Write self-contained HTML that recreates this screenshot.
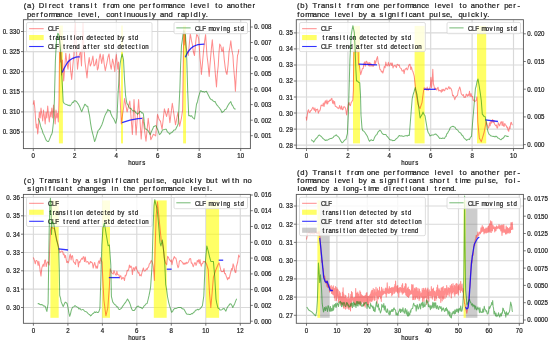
<!DOCTYPE html>
<html><head><meta charset="utf-8"><style>html,body{margin:0;padding:0;background:#fff;}svg{display:block;}</style></head>
<body>
<svg width="550" height="342" viewBox="0 0 550 342" font-family="'Liberation Sans', 'Noto Sans CJK SC', sans-serif">
<rect width="550" height="342" fill="#ffffff"/>
<line x1="33.3" y1="19.7" x2="33.3" y2="148.6" stroke="#d9d9d9" stroke-width="1.15"/>
<line x1="74.8" y1="19.7" x2="74.8" y2="148.6" stroke="#d9d9d9" stroke-width="1.15"/>
<line x1="116.3" y1="19.7" x2="116.3" y2="148.6" stroke="#d9d9d9" stroke-width="1.15"/>
<line x1="157.7" y1="19.7" x2="157.7" y2="148.6" stroke="#d9d9d9" stroke-width="1.15"/>
<line x1="199.2" y1="19.7" x2="199.2" y2="148.6" stroke="#d9d9d9" stroke-width="1.15"/>
<line x1="240.7" y1="19.7" x2="240.7" y2="148.6" stroke="#d9d9d9" stroke-width="1.15"/>
<line x1="23.4" y1="31.5" x2="250.4" y2="31.5" stroke="#d9d9d9" stroke-width="1.15"/>
<line x1="23.4" y1="51.6" x2="250.4" y2="51.6" stroke="#d9d9d9" stroke-width="1.15"/>
<line x1="23.4" y1="71.7" x2="250.4" y2="71.7" stroke="#d9d9d9" stroke-width="1.15"/>
<line x1="23.4" y1="91.8" x2="250.4" y2="91.8" stroke="#d9d9d9" stroke-width="1.15"/>
<line x1="23.4" y1="111.9" x2="250.4" y2="111.9" stroke="#d9d9d9" stroke-width="1.15"/>
<line x1="23.4" y1="132.0" x2="250.4" y2="132.0" stroke="#d9d9d9" stroke-width="1.15"/>
<rect x="58.9" y="25.5" width="4.0" height="117.9" fill="#ffff00" fill-opacity="0.6"/>
<rect x="121.0" y="25.5" width="2.0" height="117.9" fill="#ffff00" fill-opacity="0.6"/>
<rect x="183.1" y="25.5" width="2.9" height="117.9" fill="#ffff00" fill-opacity="0.6"/>
<polyline points="33.2,104.6 34.0,100.5 34.8,108.0 35.5,118.0 36.3,128.0 37.0,124.0 37.7,134.0 38.5,126.0 39.3,112.0 40.2,118.0 41.0,108.0 41.8,114.0 42.7,121.0 43.5,110.0 44.3,116.0 45.2,124.0 46.0,112.0 46.8,118.0 47.7,106.0 48.5,115.0 49.3,122.0 50.2,112.0 51.0,117.0 51.8,108.0 52.7,118.0 53.5,105.0 54.3,113.0 55.2,124.0 56.0,110.0 56.8,118.0 57.6,113.0 58.3,122.0 59.0,100.0 59.5,60.0 59.9,30.0 60.4,62.0 61.0,45.0 61.6,75.0 62.5,60.0 62.5,60.0 63.7,80.9 65.8,53.2 66.8,62.0 68.0,69.2 69.5,53.9 70.6,70.0 71.7,79.5 72.8,66.0 73.9,54.6 74.7,30.0 75.4,23.0 76.2,45.0 77.5,69.2 79.0,56.0 80.5,51.7 81.5,66.0 82.4,40.0 83.0,23.0 83.8,45.0 85.0,62.0 86.3,72.2 87.0,78.0 88.0,66.0 89.2,57.5 90.3,66.0 91.4,63.4 92.9,56.0 94.0,66.0 95.1,64.9 96.5,59.0 97.4,70.0 98.3,67.8 99.3,58.0 100.2,53.9 101.7,63.4 103.1,54.6 104.2,64.0 105.3,70.7 106.8,63.4 108.0,57.0 109.0,53.9 110.1,64.0 111.2,69.2 112.6,59.0 113.7,64.0 114.8,71.4 115.6,60.0 116.3,54.6 117.1,62.0 117.8,69.2 118.5,62.0 119.3,80.0 120.2,100.0 121.3,124.0 121.4,124.0 122.5,115.0 123.6,108.0 124.5,98.5 127.1,111.9 129.8,101.0 132.4,134.6 134.0,99.5 136.1,135.0 138.6,99.5 141.2,139.1 142.8,117.6 146.0,141.3 148.2,118.3 150.8,139.7 153.4,134.2 155.7,135.9 157.5,114.4 159.1,119.4 160.5,121.4 162.1,129.3 164.4,108.8 166.6,116.5 168.4,108.4 169.9,122.7 172.3,103.2 175.5,124.8 177.9,112.5 179.6,126.3 181.5,117.8 182.6,110.0 183.3,60.0 183.7,31.0 184.3,45.0 184.9,34.0 186.2,48.0 187.2,52.0 187.7,52.5 188.2,55.5 189.2,45.4 190.3,33.5 191.4,40.2 192.4,45.0 193.4,52.0 194.5,55.5 195.6,43.4 196.6,34.5 197.6,35.3 198.7,38.7 199.3,46.6 200.0,58.0 200.7,64.8 201.4,74.4 202.4,64.0 203.5,51.3 204.6,41.1 205.6,34.5 206.3,45.2 207.0,55.5 208.1,64.6 209.2,76.5 209.9,66.0 210.6,57.6 211.4,48.4 212.3,39.8 213.4,52.5 214.4,61.8 215.4,74.9 216.5,87.0 217.3,74.1 218.2,66.0 218.9,53.9 219.7,44.0 220.8,45.9 221.8,51.3 222.5,51.1 223.2,47.1 224.2,59.1 225.3,68.1 226.2,72.8 227.0,74.4 228.1,64.5 229.1,51.3 229.9,47.3 230.8,40.8 231.9,50.4 232.9,55.5 233.6,66.7 234.3,75.0 234.9,81.9 235.4,91.2 235.9,82.3 236.5,70.0 237.0,62.7 237.5,55.5 238.2,53.6 238.8,49.2" fill="none" stroke="#ff0000" stroke-width="1.02" opacity="0.45" stroke-linejoin="round" />
<polyline points="62.2,72.4 64.0,68.5 66.0,65.0 67.7,62.3 70.0,60.0 72.0,58.7 74.1,57.8 76.0,57.2 78.0,56.9 79.8,56.9" fill="none" stroke="#0000ff" stroke-width="1.3" opacity="0.8" stroke-linejoin="round" />
<polyline points="122.0,122.6 126.0,121.3 130.0,120.2 134.0,119.3 138.0,118.7 142.2,118.3" fill="none" stroke="#0000ff" stroke-width="1.3" opacity="0.8" stroke-linejoin="round" />
<polyline points="185.3,57.2 187.0,53.5 189.0,50.5 191.0,48.3 193.0,46.7 195.5,45.5 198.0,44.7 201.0,44.3 204.4,44.1" fill="none" stroke="#0000ff" stroke-width="1.3" opacity="0.8" stroke-linejoin="round" />
<rect x="26.5" y="22.5" width="125.5" height="29.1" rx="1.5" fill="#ffffff" fill-opacity="0.8" stroke="#d6d6d6" stroke-width="0.8"/>
<line x1="29.1" y1="28.7" x2="43.7" y2="28.7" stroke="#ff0000" stroke-opacity="0.45" stroke-width="1"/>
<text transform="scale(0.9,1)" x="53.46 57.86 61.51" y="31.00" font-size="6.8" fill="#1a1a1a" stroke="#1a1a1a" stroke-width="0.22" style="white-space:pre">CLF</text>
<rect x="29.1" y="35.0" width="14.6" height="5.1" fill="#ffff00" fill-opacity="0.6"/>
<text transform="scale(0.9,1)" x="54.97 58.62 61.69 65.53 69.55 74.33 77.97 81.99 84.69 88.53 93.31 96.19 100.03 104.81 107.69 111.72 116.31 119.19 123.03 127.81 130.69 134.72 139.31 142.38 146.97 149.86" y="39.90" font-size="6.8" fill="#1a1a1a" stroke="#1a1a1a" stroke-width="0.22" style="white-space:pre">transition detected by std</text>
<line x1="29.1" y1="46.5" x2="43.7" y2="46.5" stroke="#0000ff" stroke-width="1.1" stroke-opacity="0.8"/>
<text transform="scale(0.9,1)" x="53.46 57.86 61.51 66.47 70.31 73.95 77.03 80.86 84.69 89.47 92.36 97.14 100.97 103.86 108.45 112.47 115.55 120.14 123.03 127.81 130.69 134.53 139.31 142.19 146.22 150.81 154.83 157.53 161.36" y="48.80" font-size="6.8" fill="#1a1a1a" stroke="#1a1a1a" stroke-width="0.22" style="white-space:pre">CLF trend after std detection</text>
<polyline points="38.3,118.4 39.4,121.2 40.5,125.7 41.3,128.3 42.2,130.3 43.0,133.2 43.8,134.6 44.7,136.6 45.5,138.7 46.5,140.7 47.5,141.4 48.5,141.6 49.5,139.4 50.2,137.6 51.0,135.4 51.7,134.4 52.4,131.8 53.5,122.0 54.4,99.8 55.4,60.2 56.5,39.9 57.2,36.2 57.9,33.2 59.2,35.7 60.5,49.5 61.5,70.5 62.5,88.3 63.2,101.8 64.1,103.3 65.0,103.9 65.8,104.2 66.7,104.6 67.5,104.9 68.3,105.6 69.2,105.0 70.0,105.9 70.8,105.0 71.7,103.8 72.5,102.3 73.3,102.5 74.2,100.7 75.0,100.7 76.0,101.2 77.0,102.2 78.0,103.6 79.0,105.2 79.9,107.2 80.8,109.8 81.8,111.7 82.8,108.8 83.8,106.8 84.8,104.2 85.8,105.0 86.7,106.3 87.7,106.2 88.6,111.3 89.5,115.3 90.5,122.8 91.6,129.3 92.6,133.4 93.6,137.2 94.6,141.6 95.6,139.2 96.5,135.8 97.5,132.5 98.3,130.1 99.2,129.6 100.0,128.4 101.0,126.4 102.0,124.4 103.0,121.5 104.0,118.1 105.0,115.4 105.9,113.5 106.9,111.9 107.8,109.4 108.9,110.8 110.0,110.5 111.0,114.0 112.0,116.2 113.0,117.8 113.9,119.1 114.8,121.4 115.7,123.3 117.0,117.8 118.0,94.4 118.8,82.2 119.5,70.5 120.2,63.4 121.0,58.6 122.2,54.0 123.5,59.6 124.5,79.5 125.6,95.7 126.3,100.1 127.0,103.7 128.0,104.9 129.0,107.2 130.0,108.5 131.0,108.3 132.0,110.2 133.0,110.9 134.0,110.7 135.0,111.3 135.8,112.8 136.7,113.1 137.5,114.3 138.3,113.7 139.2,112.4 140.0,111.2 140.8,111.6 141.7,113.1 142.6,112.8 143.4,114.0 144.2,121.9 145.1,128.9 146.0,128.9 146.8,129.7 147.7,130.1 148.5,131.6 149.4,133.0 150.2,134.7 151.0,132.6 151.9,130.6 152.8,128.8 153.6,126.6 154.4,126.4 155.3,125.7 156.1,125.8 156.9,128.0 157.8,129.7 158.7,132.6 159.5,134.6 160.3,133.9 161.2,132.7 162.1,130.7 162.9,129.7 163.8,129.7 164.6,129.5 165.5,129.2 166.3,129.2 167.2,131.6 168.0,132.3 168.8,132.9 169.7,134.3 170.5,132.9 171.4,132.7 172.2,132.2 173.1,131.1 173.9,130.0 174.8,130.1 175.7,129.3 176.5,127.5 177.3,125.9 178.2,123.8 179.0,106.7 179.9,88.2 180.6,64.5 181.5,45.3 182.3,40.4 183.0,34.3 183.8,30.1 184.7,32.1 185.5,35.2 186.8,60.3 187.7,90.7 188.7,115.8 189.7,115.5 190.6,116.3 191.6,115.8 192.6,117.6 193.5,118.2 194.5,119.0 195.5,111.6 196.5,104.2 197.5,101.7 198.4,97.3 199.4,94.2 200.4,90.8 201.2,90.8 202.1,91.7 202.9,91.6 203.8,91.8 204.6,92.2 205.5,91.6 206.3,91.2 207.3,92.9 208.3,95.0 209.2,96.8 210.2,98.7 211.2,99.7 212.2,99.8 213.1,100.8 214.1,101.7 215.1,101.4 216.0,103.6 216.8,104.9 217.7,105.8 218.6,107.0 219.4,107.8 220.3,109.2 221.1,110.4 222.0,112.6 223.0,111.7 224.0,111.1 224.9,109.6 225.9,109.2 226.9,107.4 227.9,105.5 228.9,103.9 229.8,102.8 230.8,101.6 231.8,104.6 232.8,105.9 233.8,108.1 234.8,109.1 235.7,108.9" fill="none" stroke="#008000" stroke-width="1.02" opacity="0.55" stroke-linejoin="round" />
<rect x="174" y="22.4" width="73.5" height="11.3" rx="1.5" fill="#ffffff" fill-opacity="0.8" stroke="#d6d6d6" stroke-width="0.8"/>
<line x1="176.3" y1="27.9" x2="190.6" y2="27.9" stroke="#008000" stroke-opacity="0.55" stroke-width="1"/>
<text transform="scale(0.9,1)" x="216.79 221.19 224.84 229.81 231.75 236.53 240.55 245.33 248.03 251.86 256.64 259.72 264.31 267.19" y="30.70" font-size="6.8" fill="#1a1a1a" stroke="#1a1a1a" stroke-width="0.22" style="white-space:pre">CLF moving std</text>
<rect x="23.4" y="19.7" width="227.0" height="128.9" fill="none" stroke="#555555" stroke-width="0.9"/>
<line x1="33.3" y1="148.6" x2="33.3" y2="151.0" stroke="#555555" stroke-width="0.8"/>
<text transform="scale(0.9,1)" x="35.11" y="158.10" font-size="6.8" fill="#1a1a1a" stroke="#1a1a1a" stroke-width="0.22" style="white-space:pre">0</text>
<line x1="74.8" y1="148.6" x2="74.8" y2="151.0" stroke="#555555" stroke-width="0.8"/>
<text transform="scale(0.9,1)" x="81.20" y="158.10" font-size="6.8" fill="#1a1a1a" stroke="#1a1a1a" stroke-width="0.22" style="white-space:pre">2</text>
<line x1="116.3" y1="148.6" x2="116.3" y2="151.0" stroke="#555555" stroke-width="0.8"/>
<text transform="scale(0.9,1)" x="127.29" y="158.10" font-size="6.8" fill="#1a1a1a" stroke="#1a1a1a" stroke-width="0.22" style="white-space:pre">4</text>
<line x1="157.7" y1="148.6" x2="157.7" y2="151.0" stroke="#555555" stroke-width="0.8"/>
<text transform="scale(0.9,1)" x="173.38" y="158.10" font-size="6.8" fill="#1a1a1a" stroke="#1a1a1a" stroke-width="0.22" style="white-space:pre">6</text>
<line x1="199.2" y1="148.6" x2="199.2" y2="151.0" stroke="#555555" stroke-width="0.8"/>
<text transform="scale(0.9,1)" x="219.46" y="158.10" font-size="6.8" fill="#1a1a1a" stroke="#1a1a1a" stroke-width="0.22" style="white-space:pre">8</text>
<line x1="240.7" y1="148.6" x2="240.7" y2="151.0" stroke="#555555" stroke-width="0.8"/>
<text transform="scale(0.9,1)" x="263.64 267.47" y="158.10" font-size="6.8" fill="#1a1a1a" stroke="#1a1a1a" stroke-width="0.22" style="white-space:pre">10</text>
<line x1="21.0" y1="31.5" x2="23.4" y2="31.5" stroke="#555555" stroke-width="0.8"/>
<text transform="scale(0.9,1)" x="3.03 6.64 10.69 14.53 18.36" y="34.00" font-size="6.8" fill="#1a1a1a" stroke="#1a1a1a" stroke-width="0.22" style="white-space:pre">0.330</text>
<line x1="21.0" y1="51.6" x2="23.4" y2="51.6" stroke="#555555" stroke-width="0.8"/>
<text transform="scale(0.9,1)" x="3.03 6.64 10.69 14.53 18.36" y="54.10" font-size="6.8" fill="#1a1a1a" stroke="#1a1a1a" stroke-width="0.22" style="white-space:pre">0.325</text>
<line x1="21.0" y1="71.7" x2="23.4" y2="71.7" stroke="#555555" stroke-width="0.8"/>
<text transform="scale(0.9,1)" x="3.03 6.64 10.69 14.53 18.36" y="74.20" font-size="6.8" fill="#1a1a1a" stroke="#1a1a1a" stroke-width="0.22" style="white-space:pre">0.320</text>
<line x1="21.0" y1="91.8" x2="23.4" y2="91.8" stroke="#555555" stroke-width="0.8"/>
<text transform="scale(0.9,1)" x="3.03 6.64 10.69 14.53 18.36" y="94.30" font-size="6.8" fill="#1a1a1a" stroke="#1a1a1a" stroke-width="0.22" style="white-space:pre">0.315</text>
<line x1="21.0" y1="111.9" x2="23.4" y2="111.9" stroke="#555555" stroke-width="0.8"/>
<text transform="scale(0.9,1)" x="3.03 6.64 10.69 14.53 18.36" y="114.40" font-size="6.8" fill="#1a1a1a" stroke="#1a1a1a" stroke-width="0.22" style="white-space:pre">0.310</text>
<line x1="21.0" y1="132.0" x2="23.4" y2="132.0" stroke="#555555" stroke-width="0.8"/>
<text transform="scale(0.9,1)" x="3.03 6.64 10.69 14.53 18.36" y="134.50" font-size="6.8" fill="#1a1a1a" stroke="#1a1a1a" stroke-width="0.22" style="white-space:pre">0.305</text>
<line x1="250.4" y1="27.0" x2="252.8" y2="27.0" stroke="#555555" stroke-width="0.8"/>
<text transform="scale(0.9,1)" x="282.58 286.20 290.25 294.08 297.91" y="29.50" font-size="6.8" fill="#1a1a1a" stroke="#1a1a1a" stroke-width="0.22" style="white-space:pre">0.008</text>
<line x1="250.4" y1="42.5" x2="252.8" y2="42.5" stroke="#555555" stroke-width="0.8"/>
<text transform="scale(0.9,1)" x="282.58 286.20 290.25 294.08 297.91" y="45.03" font-size="6.8" fill="#1a1a1a" stroke="#1a1a1a" stroke-width="0.22" style="white-space:pre">0.007</text>
<line x1="250.4" y1="58.1" x2="252.8" y2="58.1" stroke="#555555" stroke-width="0.8"/>
<text transform="scale(0.9,1)" x="282.58 286.20 290.25 294.08 297.91" y="60.56" font-size="6.8" fill="#1a1a1a" stroke="#1a1a1a" stroke-width="0.22" style="white-space:pre">0.006</text>
<line x1="250.4" y1="73.6" x2="252.8" y2="73.6" stroke="#555555" stroke-width="0.8"/>
<text transform="scale(0.9,1)" x="282.58 286.20 290.25 294.08 297.91" y="76.09" font-size="6.8" fill="#1a1a1a" stroke="#1a1a1a" stroke-width="0.22" style="white-space:pre">0.005</text>
<line x1="250.4" y1="89.1" x2="252.8" y2="89.1" stroke="#555555" stroke-width="0.8"/>
<text transform="scale(0.9,1)" x="282.58 286.20 290.25 294.08 297.91" y="91.62" font-size="6.8" fill="#1a1a1a" stroke="#1a1a1a" stroke-width="0.22" style="white-space:pre">0.004</text>
<line x1="250.4" y1="104.6" x2="252.8" y2="104.6" stroke="#555555" stroke-width="0.8"/>
<text transform="scale(0.9,1)" x="282.58 286.20 290.25 294.08 297.91" y="107.15" font-size="6.8" fill="#1a1a1a" stroke="#1a1a1a" stroke-width="0.22" style="white-space:pre">0.003</text>
<line x1="250.4" y1="120.2" x2="252.8" y2="120.2" stroke="#555555" stroke-width="0.8"/>
<text transform="scale(0.9,1)" x="282.58 286.20 290.25 294.08 297.91" y="122.68" font-size="6.8" fill="#1a1a1a" stroke="#1a1a1a" stroke-width="0.22" style="white-space:pre">0.002</text>
<line x1="250.4" y1="135.7" x2="252.8" y2="135.7" stroke="#555555" stroke-width="0.8"/>
<text transform="scale(0.9,1)" x="282.58 286.20 290.25 294.08 297.91" y="138.21" font-size="6.8" fill="#1a1a1a" stroke="#1a1a1a" stroke-width="0.22" style="white-space:pre">0.001</text>
<text transform="scale(0.9,1)" x="142.55 146.39 150.22 154.81 158.08" y="164.90" font-size="6.8" fill="#1a1a1a" stroke="#1a1a1a" stroke-width="0.22" style="white-space:pre">hours</text>
<text transform="scale(0.97,1)" x="24.44 27.84 33.01 37.52 40.05 46.32 50.17 53.58 58.09 63.25 67.54 71.83 75.90 79.31 83.60 88.11 93.49 97.56 101.85 106.14 110.21 113.62 116.81 123.29 126.48 130.77 135.06 140.45 143.64 147.93 153.10 157.60 160.79 165.96 168.28 173.66 177.95 182.46 186.52 191.91 196.42 199.39 203.90 207.97 213.58 217.64 221.93 225.12 230.51 233.70 237.99 242.28 247.67 250.85 255.14 260.31" y="8.50" font-size="7.9" fill="#1a1a1a" stroke="#1a1a1a" stroke-width="0.22" style="white-space:pre">(a) Direct transit from one performance level to another</text>
<text transform="scale(0.97,1)" x="24.66 27.84 32.13 37.30 41.81 45.00 50.17 52.48 57.87 62.15 66.66 70.73 76.12 80.63 83.60 88.11 92.17 97.78 100.59 106.14 109.55 113.62 117.91 123.29 127.80 130.77 135.06 139.35 143.64 148.15 153.53 156.73 161.89 165.08 169.37 173.66 179.05 183.12 186.52 190.81 196.42 199.39 205.00 208.19 212.09" y="16.60" font-size="7.9" fill="#1a1a1a" stroke="#1a1a1a" stroke-width="0.22" style="white-space:pre"> performance level, continuously and rapidly.</text>
<line x1="306.5" y1="19.7" x2="306.5" y2="148.6" stroke="#d9d9d9" stroke-width="1.15"/>
<line x1="347.9" y1="19.7" x2="347.9" y2="148.6" stroke="#d9d9d9" stroke-width="1.15"/>
<line x1="389.3" y1="19.7" x2="389.3" y2="148.6" stroke="#d9d9d9" stroke-width="1.15"/>
<line x1="430.7" y1="19.7" x2="430.7" y2="148.6" stroke="#d9d9d9" stroke-width="1.15"/>
<line x1="472.1" y1="19.7" x2="472.1" y2="148.6" stroke="#d9d9d9" stroke-width="1.15"/>
<line x1="513.5" y1="19.7" x2="513.5" y2="148.6" stroke="#d9d9d9" stroke-width="1.15"/>
<line x1="296.3" y1="32.9" x2="523.4" y2="32.9" stroke="#d9d9d9" stroke-width="1.15"/>
<line x1="296.3" y1="48.9" x2="523.4" y2="48.9" stroke="#d9d9d9" stroke-width="1.15"/>
<line x1="296.3" y1="65.0" x2="523.4" y2="65.0" stroke="#d9d9d9" stroke-width="1.15"/>
<line x1="296.3" y1="81.0" x2="523.4" y2="81.0" stroke="#d9d9d9" stroke-width="1.15"/>
<line x1="296.3" y1="97.0" x2="523.4" y2="97.0" stroke="#d9d9d9" stroke-width="1.15"/>
<line x1="296.3" y1="113.0" x2="523.4" y2="113.0" stroke="#d9d9d9" stroke-width="1.15"/>
<line x1="296.3" y1="129.1" x2="523.4" y2="129.1" stroke="#d9d9d9" stroke-width="1.15"/>
<line x1="296.3" y1="145.1" x2="523.4" y2="145.1" stroke="#d9d9d9" stroke-width="1.15"/>
<rect x="353.0" y="25.9" width="7.0" height="117.5" fill="#ffff00" fill-opacity="0.6"/>
<rect x="414.6" y="25.9" width="10.0" height="117.5" fill="#ffff00" fill-opacity="0.6"/>
<rect x="477.0" y="25.9" width="9.2" height="117.5" fill="#ffff00" fill-opacity="0.6"/>
<polyline points="306.2,116.6 306.6,120.3 307.2,116.1 307.8,111.3 308.5,109.7 309.2,112.4 310.0,112.3 310.7,110.5 311.4,110.2 312.2,108.6 312.9,107.2 313.6,108.8 314.3,110.3 314.9,107.9 315.6,112.0 316.3,109.4 316.9,109.7 317.6,109.0 318.3,113.2 319.0,111.0 319.7,111.0 320.4,108.8 321.1,105.0 321.9,105.7 322.6,105.8 323.3,103.0 324.0,106.6 324.7,102.7 325.4,100.8 326.1,104.0 326.9,100.1 327.6,104.0 328.4,101.2 329.1,101.4 329.8,100.1 330.6,100.5 331.3,98.7 331.9,98.4 332.6,103.3 333.2,100.6 333.9,104.0 334.6,101.5 335.2,106.0 335.9,106.6 336.7,106.9 337.4,107.9 338.2,107.9 338.9,108.7 339.6,105.5 340.2,107.4 340.9,109.2 341.6,105.9 342.3,109.7 343.0,109.5 343.6,107.0 344.3,106.8 345.0,107.2 345.8,109.4 346.6,115.0 347.4,109.2 348.2,104.7 349.0,102.5 349.7,105.0 350.4,105.7 351.2,102.3 351.9,101.6 352.8,100.0 353.4,90.0 353.7,60.0 354.0,51.0 355.0,50.5 356.0,52.0 357.0,50.5 358.2,52.0 358.5,64.0 359.5,66.0 360.7,74.7 362.4,68.6 363.2,68.4 363.9,63.4 364.6,62.0 365.3,66.3 366.0,61.4 366.7,61.2 367.3,64.1 368.0,62.7 368.7,65.7 369.3,62.4 370.0,66.4 370.7,63.1 371.3,64.5 372.0,66.2 372.7,65.0 373.3,66.2 374.0,65.1 374.7,60.5 375.4,63.7 376.1,61.0 376.8,58.4 377.5,56.6 378.3,63.0 379.1,64.5 379.9,69.3 380.6,69.7 381.4,71.9 382.1,71.1 382.8,73.0 383.6,70.4 384.3,66.3 385.1,67.7 385.8,62.1 386.4,64.8 387.1,66.0 387.8,64.7 388.4,62.3 389.1,66.1 389.7,65.6 390.4,63.3 391.0,62.8 391.6,65.5 392.3,63.1 393.0,68.0 393.6,66.0 394.3,65.9 395.0,65.2 395.7,66.4 396.4,67.6 397.1,64.3 397.8,64.5 398.5,65.4 399.2,64.9 399.9,67.5 400.6,68.2 401.3,68.7 402.0,70.9 402.7,71.1 403.4,69.9 404.1,73.7 404.9,69.5 405.6,69.0 406.4,68.0 407.1,69.9 407.8,69.1 408.6,65.9 409.3,64.5 410.0,64.2 410.8,69.6 411.5,67.0 412.2,70.2 412.9,71.5 413.5,73.6 414.2,76.1 415.2,85.0 416.5,96.0 418.1,104.6 420.0,108.5 422.0,102.6 423.0,95.0 424.0,87.9 425.0,88.0 425.8,89.2 426.5,89.9 427.2,87.0 428.0,90.4 428.8,89.0 429.5,88.8 430.3,86.2 430.9,77.3 431.6,87.7 432.3,78.7 432.8,69.2 433.4,83.7 434.0,86.0 434.7,89.2 435.3,88.1 436.0,88.7 436.7,90.0 437.3,88.4 438.0,87.2 438.7,90.9 439.3,90.2 440.0,90.8 440.7,90.6 441.3,92.2 442.0,89.3 442.7,91.2 443.3,89.3 444.0,90.3 444.7,90.7 445.3,89.0 446.0,87.9 446.8,89.0 447.5,89.4 448.2,88.1 449.0,86.6 449.7,88.8 450.4,87.8 451.2,89.0 451.9,91.0 452.6,95.8 453.4,95.2 454.1,97.3 454.8,99.7 455.5,97.4 456.1,96.6 456.8,96.0 457.5,95.3 458.2,91.0 459.0,89.2 459.7,86.9 460.4,89.2 461.2,93.6 461.9,94.7 462.7,95.5 463.4,94.6 464.1,97.6 464.9,96.9 465.6,97.3 466.2,94.0 466.9,95.0 467.6,96.3 468.2,94.2 468.9,95.4 469.5,91.2 470.2,96.6 471.0,93.6 471.8,96.8 472.5,96.4 473.2,100.4 473.9,100.1 474.7,101.7 475.4,101.2 476.2,100.4 477.0,96.9 477.8,122.0 479.3,137.9 481.3,141.8 484.2,132.0 486.2,121.2 488.2,128.2 488.8,127.6 489.5,122.8 490.1,125.8 490.9,121.1 491.6,123.1 492.4,119.6 493.1,122.5 493.8,120.2 494.4,123.9 495.1,124.8 495.7,125.8 496.4,125.0 497.0,128.0 497.6,128.0 498.3,122.8 498.9,124.2 499.6,125.9 500.2,124.1 500.9,121.9 501.5,121.7 502.2,125.6 502.9,121.5 503.5,125.6 504.1,126.5 504.8,123.4 505.4,124.9 506.1,125.5 506.8,127.4 507.4,127.1 508.1,130.5 508.7,131.3 509.4,126.8 510.0,128.6 510.7,123.0 511.4,122.4 512.0,124.7 512.7,124.8" fill="none" stroke="#ff0000" stroke-width="1.02" opacity="0.45" stroke-linejoin="round" />
<polyline points="358.7,64.2 377.0,64.8" fill="none" stroke="#0000ff" stroke-width="1.3" opacity="0.8" stroke-linejoin="round" />
<polyline points="424.0,89.3 435.8,89.3" fill="none" stroke="#0000ff" stroke-width="1.3" opacity="0.8" stroke-linejoin="round" />
<polyline points="485.2,119.8 498.0,121.5" fill="none" stroke="#0000ff" stroke-width="1.3" opacity="0.8" stroke-linejoin="round" />
<rect x="299.5" y="22.5" width="125.9" height="29.1" rx="1.5" fill="#ffffff" fill-opacity="0.8" stroke="#d6d6d6" stroke-width="0.8"/>
<line x1="302.1" y1="28.7" x2="316.7" y2="28.7" stroke="#ff0000" stroke-opacity="0.45" stroke-width="1"/>
<text transform="scale(0.9,1)" x="356.79 361.19 364.84" y="31.00" font-size="6.8" fill="#1a1a1a" stroke="#1a1a1a" stroke-width="0.22" style="white-space:pre">CLF</text>
<rect x="302.1" y="35.0" width="14.6" height="5.1" fill="#ffff00" fill-opacity="0.6"/>
<text transform="scale(0.9,1)" x="358.31 361.95 365.03 368.86 372.88 377.66 381.31 385.33 388.03 391.86 396.64 399.53 403.36 408.14 411.03 415.05 419.64 422.53 426.36 431.14 434.03 438.05 442.64 445.72 450.31 453.19" y="39.90" font-size="6.8" fill="#1a1a1a" stroke="#1a1a1a" stroke-width="0.22" style="white-space:pre">transition detected by std</text>
<line x1="302.1" y1="46.5" x2="316.7" y2="46.5" stroke="#0000ff" stroke-width="1.1" stroke-opacity="0.8"/>
<text transform="scale(0.9,1)" x="356.79 361.19 364.84 369.81 373.64 377.28 380.36 384.19 388.03 392.81 395.69 400.47 404.31 407.19 411.78 415.81 418.88 423.47 426.36 431.14 434.03 437.86 442.64 445.53 449.55 454.14 458.16 460.86 464.69" y="48.80" font-size="6.8" fill="#1a1a1a" stroke="#1a1a1a" stroke-width="0.22" style="white-space:pre">CLF trend after std detection</text>
<polyline points="311.3,139.5 312.1,140.7 312.8,140.8 313.6,142.1 314.6,140.7 315.5,139.1 316.5,138.1 317.5,137.1 318.5,135.5 319.5,135.0 320.5,136.0 321.5,136.7 322.5,138.0 323.5,138.9 324.4,139.6 325.4,140.5 326.4,139.9 327.4,140.2 328.3,139.6 329.3,139.0 330.3,138.6 331.3,138.5 332.3,138.0 333.3,137.4 334.2,136.0 335.2,135.7 336.2,134.8 337.1,135.9 338.1,136.6 339.0,137.5 340.0,139.4 341.0,141.4 342.0,142.8 343.0,142.1 344.0,140.8 345.0,139.8 346.0,139.4 346.7,136.1 347.4,133.6 348.5,110.1 349.2,85.2 349.9,59.9 351.2,35.1 352.0,30.2 352.9,25.7 353.6,29.2 354.3,32.4 355.2,50.2 355.9,70.0 356.5,81.0 357.2,80.9 358.0,81.7 358.9,82.5 359.8,82.8 360.5,94.9 361.0,115.3 362.0,128.1 362.7,130.5 363.7,131.1 364.6,132.0 365.6,133.6 366.6,135.0 367.6,136.8 368.5,139.4 369.5,141.3 370.5,140.2 371.5,139.8 372.5,140.6 373.5,140.4 374.3,138.1 375.2,136.3 376.0,135.2 377.0,134.3 377.9,132.2 378.9,131.2 379.9,130.2 380.9,131.1 381.8,132.8 382.8,134.0 383.8,134.6 384.8,134.5 385.8,134.5 386.8,136.1 387.8,137.0 388.7,138.2 389.7,139.5 390.7,140.0 391.7,140.0 392.6,140.7 393.6,140.5 394.6,140.5 395.6,139.4 396.6,138.4 397.5,137.9 398.5,136.2 399.5,135.5 400.3,136.0 401.2,136.1 402.0,135.8 402.9,136.4 403.7,136.2 404.6,135.9 405.4,135.8 406.4,135.6 407.4,136.0 408.3,135.2 409.3,135.4 410.3,122.8 411.2,111.0 412.2,98.7 413.2,94.5 414.2,91.2 415.2,87.6 416.1,91.5 417.1,95.0 418.1,102.8 419.1,110.0 420.1,117.9 420.8,116.5 421.5,115.4 422.2,114.3 423.0,112.1 424.0,114.2 425.0,115.7 425.8,120.7 426.5,124.6 427.3,129.6 428.2,132.5 429.0,133.6 429.9,135.9 430.9,135.6 431.8,134.9 432.8,134.9 433.8,134.9 434.8,134.2 435.7,134.0 436.7,134.9 437.7,135.8 438.7,137.1 439.7,138.5 440.7,138.1 441.7,138.6 442.6,138.0 443.6,138.2 444.6,138.4 445.3,136.9 446.0,136.5 446.8,133.8 447.7,133.0 448.5,131.3 449.3,130.2 450.2,127.8 451.0,127.0 451.9,126.6 452.9,126.2 453.9,126.8 455.0,127.2 455.9,128.8 456.9,129.6 457.8,130.2 458.8,131.8 459.8,132.5 460.7,133.1 461.7,135.0 462.7,135.5 463.7,137.5 464.6,138.6 465.6,139.2 466.6,140.4 467.6,139.6 468.5,139.1 469.5,139.5 470.5,137.1 471.5,136.5 472.5,123.8 473.5,112.2 474.4,100.6 475.4,88.7 476.2,86.0 477.0,81.7 478.0,79.0 479.3,86.5 480.3,93.3 481.3,100.8 482.3,114.2 483.3,115.4 484.2,116.6 485.2,116.8 486.2,122.2 487.2,128.3 488.1,132.1 489.1,134.4 490.1,135.2 491.1,136.1 492.1,136.1 493.1,136.6 494.1,136.3 495.1,137.0 496.0,136.1 497.0,136.9 498.0,138.1 498.9,138.3 499.9,139.1 500.9,139.8 501.9,138.8 502.9,138.3 503.8,137.5 504.8,135.7 505.8,135.8 506.8,136.4 507.7,136.3 508.7,136.4" fill="none" stroke="#008000" stroke-width="1.02" opacity="0.55" stroke-linejoin="round" />
<rect x="447" y="22.4" width="73.5" height="11.3" rx="1.5" fill="#ffffff" fill-opacity="0.8" stroke="#d6d6d6" stroke-width="0.8"/>
<line x1="449.3" y1="27.9" x2="463.6" y2="27.9" stroke="#008000" stroke-opacity="0.55" stroke-width="1"/>
<text transform="scale(0.9,1)" x="520.13 524.53 528.17 533.14 535.08 539.86 543.88 548.66 551.36 555.19 559.97 563.05 567.64 570.53" y="30.70" font-size="6.8" fill="#1a1a1a" stroke="#1a1a1a" stroke-width="0.22" style="white-space:pre">CLF moving std</text>
<rect x="296.3" y="19.7" width="227.1" height="128.9" fill="none" stroke="#555555" stroke-width="0.9"/>
<line x1="306.5" y1="148.6" x2="306.5" y2="151.0" stroke="#555555" stroke-width="0.8"/>
<text transform="scale(0.9,1)" x="338.66" y="158.10" font-size="6.8" fill="#1a1a1a" stroke="#1a1a1a" stroke-width="0.22" style="white-space:pre">0</text>
<line x1="347.9" y1="148.6" x2="347.9" y2="151.0" stroke="#555555" stroke-width="0.8"/>
<text transform="scale(0.9,1)" x="384.66" y="158.10" font-size="6.8" fill="#1a1a1a" stroke="#1a1a1a" stroke-width="0.22" style="white-space:pre">2</text>
<line x1="389.3" y1="148.6" x2="389.3" y2="151.0" stroke="#555555" stroke-width="0.8"/>
<text transform="scale(0.9,1)" x="430.66" y="158.10" font-size="6.8" fill="#1a1a1a" stroke="#1a1a1a" stroke-width="0.22" style="white-space:pre">4</text>
<line x1="430.7" y1="148.6" x2="430.7" y2="151.0" stroke="#555555" stroke-width="0.8"/>
<text transform="scale(0.9,1)" x="476.66" y="158.10" font-size="6.8" fill="#1a1a1a" stroke="#1a1a1a" stroke-width="0.22" style="white-space:pre">6</text>
<line x1="472.1" y1="148.6" x2="472.1" y2="151.0" stroke="#555555" stroke-width="0.8"/>
<text transform="scale(0.9,1)" x="522.66" y="158.10" font-size="6.8" fill="#1a1a1a" stroke="#1a1a1a" stroke-width="0.22" style="white-space:pre">8</text>
<line x1="513.5" y1="148.6" x2="513.5" y2="151.0" stroke="#555555" stroke-width="0.8"/>
<text transform="scale(0.9,1)" x="566.75 570.58" y="158.10" font-size="6.8" fill="#1a1a1a" stroke="#1a1a1a" stroke-width="0.22" style="white-space:pre">10</text>
<line x1="293.90000000000003" y1="32.9" x2="296.3" y2="32.9" stroke="#555555" stroke-width="0.8"/>
<text transform="scale(0.9,1)" x="310.08 313.70 317.75 321.58" y="35.40" font-size="6.8" fill="#1a1a1a" stroke="#1a1a1a" stroke-width="0.22" style="white-space:pre">0.35</text>
<line x1="293.90000000000003" y1="48.9" x2="296.3" y2="48.9" stroke="#555555" stroke-width="0.8"/>
<text transform="scale(0.9,1)" x="310.08 313.70 317.75 321.58" y="51.43" font-size="6.8" fill="#1a1a1a" stroke="#1a1a1a" stroke-width="0.22" style="white-space:pre">0.34</text>
<line x1="293.90000000000003" y1="65.0" x2="296.3" y2="65.0" stroke="#555555" stroke-width="0.8"/>
<text transform="scale(0.9,1)" x="310.08 313.70 317.75 321.58" y="67.46" font-size="6.8" fill="#1a1a1a" stroke="#1a1a1a" stroke-width="0.22" style="white-space:pre">0.33</text>
<line x1="293.90000000000003" y1="81.0" x2="296.3" y2="81.0" stroke="#555555" stroke-width="0.8"/>
<text transform="scale(0.9,1)" x="310.08 313.70 317.75 321.58" y="83.49" font-size="6.8" fill="#1a1a1a" stroke="#1a1a1a" stroke-width="0.22" style="white-space:pre">0.32</text>
<line x1="293.90000000000003" y1="97.0" x2="296.3" y2="97.0" stroke="#555555" stroke-width="0.8"/>
<text transform="scale(0.9,1)" x="310.08 313.70 317.75 321.58" y="99.52" font-size="6.8" fill="#1a1a1a" stroke="#1a1a1a" stroke-width="0.22" style="white-space:pre">0.31</text>
<line x1="293.90000000000003" y1="113.0" x2="296.3" y2="113.0" stroke="#555555" stroke-width="0.8"/>
<text transform="scale(0.9,1)" x="310.08 313.70 317.75 321.58" y="115.55" font-size="6.8" fill="#1a1a1a" stroke="#1a1a1a" stroke-width="0.22" style="white-space:pre">0.30</text>
<line x1="293.90000000000003" y1="129.1" x2="296.3" y2="129.1" stroke="#555555" stroke-width="0.8"/>
<text transform="scale(0.9,1)" x="310.08 313.70 317.75 321.58" y="131.58" font-size="6.8" fill="#1a1a1a" stroke="#1a1a1a" stroke-width="0.22" style="white-space:pre">0.29</text>
<line x1="293.90000000000003" y1="145.1" x2="296.3" y2="145.1" stroke="#555555" stroke-width="0.8"/>
<text transform="scale(0.9,1)" x="310.08 313.70 317.75 321.58" y="147.61" font-size="6.8" fill="#1a1a1a" stroke="#1a1a1a" stroke-width="0.22" style="white-space:pre">0.28</text>
<line x1="523.4" y1="33.8" x2="525.8" y2="33.8" stroke="#555555" stroke-width="0.8"/>
<text transform="scale(0.9,1)" x="585.91 589.53 593.58 597.41 601.25" y="36.30" font-size="6.8" fill="#1a1a1a" stroke="#1a1a1a" stroke-width="0.22" style="white-space:pre">0.020</text>
<line x1="523.4" y1="61.5" x2="525.8" y2="61.5" stroke="#555555" stroke-width="0.8"/>
<text transform="scale(0.9,1)" x="585.91 589.53 593.58 597.41 601.25" y="64.00" font-size="6.8" fill="#1a1a1a" stroke="#1a1a1a" stroke-width="0.22" style="white-space:pre">0.015</text>
<line x1="523.4" y1="89.2" x2="525.8" y2="89.2" stroke="#555555" stroke-width="0.8"/>
<text transform="scale(0.9,1)" x="585.91 589.53 593.58 597.41 601.25" y="91.70" font-size="6.8" fill="#1a1a1a" stroke="#1a1a1a" stroke-width="0.22" style="white-space:pre">0.010</text>
<line x1="523.4" y1="116.9" x2="525.8" y2="116.9" stroke="#555555" stroke-width="0.8"/>
<text transform="scale(0.9,1)" x="585.91 589.53 593.58 597.41 601.25" y="119.40" font-size="6.8" fill="#1a1a1a" stroke="#1a1a1a" stroke-width="0.22" style="white-space:pre">0.005</text>
<line x1="523.4" y1="144.6" x2="525.8" y2="144.6" stroke="#555555" stroke-width="0.8"/>
<text transform="scale(0.9,1)" x="585.91 589.53 593.58 597.41 601.25" y="147.10" font-size="6.8" fill="#1a1a1a" stroke="#1a1a1a" stroke-width="0.22" style="white-space:pre">0.000</text>
<text transform="scale(0.9,1)" x="445.83 449.66 453.50 458.09 461.36" y="164.90" font-size="6.8" fill="#1a1a1a" stroke="#1a1a1a" stroke-width="0.22" style="white-space:pre">hours</text>
<text transform="scale(0.97,1)" x="306.19 309.60 314.77 319.27 322.25 327.63 331.04 335.33 339.84 345.23 349.29 353.58 357.87 361.94 365.35 368.54 375.03 378.22 382.50 386.79 392.18 395.37 399.66 404.83 409.34 412.52 417.69 420.01 425.39 429.68 434.19 438.26 443.64 448.15 451.12 455.63 459.70 465.31 469.38 473.67 476.85 482.24 485.43 489.72 494.01 499.40 502.59 506.88 512.05 516.55 519.74 524.03 529.20 533.49" y="8.50" font-size="7.9" fill="#1a1a1a" stroke="#1a1a1a" stroke-width="0.22" style="white-space:pre">(b) Transit from one performance level to another per-</text>
<text transform="scale(0.97,1)" x="306.41 309.60 314.77 317.08 322.46 326.75 331.26 335.33 340.72 345.23 348.19 352.71 356.77 362.38 366.45 369.64 374.15 379.31 382.50 387.89 391.30 396.69 399.66 403.95 409.56 413.62 418.13 421.32 425.39 429.68 435.07 439.36 442.55 446.83 452.44 455.63 459.70 463.83 469.38 472.57 476.85 482.46 485.65 489.94 495.33 498.52 502.42" y="16.60" font-size="7.9" fill="#1a1a1a" stroke="#1a1a1a" stroke-width="0.22" style="white-space:pre">formance level by a significant pulse, quickly.</text>
<line x1="33.4" y1="194.4" x2="33.4" y2="323.3" stroke="#d9d9d9" stroke-width="1.15"/>
<line x1="67.9" y1="194.4" x2="67.9" y2="323.3" stroke="#d9d9d9" stroke-width="1.15"/>
<line x1="102.4" y1="194.4" x2="102.4" y2="323.3" stroke="#d9d9d9" stroke-width="1.15"/>
<line x1="136.8" y1="194.4" x2="136.8" y2="323.3" stroke="#d9d9d9" stroke-width="1.15"/>
<line x1="171.3" y1="194.4" x2="171.3" y2="323.3" stroke="#d9d9d9" stroke-width="1.15"/>
<line x1="205.8" y1="194.4" x2="205.8" y2="323.3" stroke="#d9d9d9" stroke-width="1.15"/>
<line x1="240.3" y1="194.4" x2="240.3" y2="323.3" stroke="#d9d9d9" stroke-width="1.15"/>
<line x1="23.4" y1="197.5" x2="250.4" y2="197.5" stroke="#d9d9d9" stroke-width="1.15"/>
<line x1="23.4" y1="215.8" x2="250.4" y2="215.8" stroke="#d9d9d9" stroke-width="1.15"/>
<line x1="23.4" y1="234.2" x2="250.4" y2="234.2" stroke="#d9d9d9" stroke-width="1.15"/>
<line x1="23.4" y1="252.5" x2="250.4" y2="252.5" stroke="#d9d9d9" stroke-width="1.15"/>
<line x1="23.4" y1="270.8" x2="250.4" y2="270.8" stroke="#d9d9d9" stroke-width="1.15"/>
<line x1="23.4" y1="289.1" x2="250.4" y2="289.1" stroke="#d9d9d9" stroke-width="1.15"/>
<line x1="23.4" y1="307.5" x2="250.4" y2="307.5" stroke="#d9d9d9" stroke-width="1.15"/>
<rect x="50.4" y="200.4" width="8.3" height="117.4" fill="#ffff00" fill-opacity="0.6"/>
<rect x="102.2" y="200.4" width="7.8" height="117.4" fill="#ffff00" fill-opacity="0.6"/>
<rect x="153.8" y="200.4" width="12.9" height="117.4" fill="#ffff00" fill-opacity="0.6"/>
<rect x="206.1" y="200.4" width="13.0" height="117.4" fill="#ffff00" fill-opacity="0.6"/>
<polyline points="33.2,257.5 33.9,258.7 34.6,261.2 35.3,263.8 36.0,260.5 36.7,260.5 37.4,261.5 38.1,265.4 38.8,261.3 39.5,265.7 40.2,271.1 41.0,276.1 41.8,268.2 42.5,266.0 43.3,264.1 44.0,266.5 44.8,260.3 45.5,260.0 46.2,266.6 47.0,263.0 47.8,261.7 48.5,262.8 49.2,265.0 49.8,245.0 50.5,230.0 51.5,227.0 52.5,228.0 54.3,228.6 56.0,236.0 58.7,247.3 59.8,252.7 61.4,251.0 62.1,251.3 62.7,251.3 63.4,254.8 64.1,254.0 64.8,257.7 65.5,255.4 66.2,259.3 66.8,262.6 67.5,261.4 68.2,262.9 68.9,261.1 69.6,256.2 70.3,254.1 71.1,259.9 71.8,255.9 72.5,255.6 73.3,261.1 74.0,262.4 74.7,263.0 75.5,264.4 76.2,259.7 77.0,259.5 77.7,260.3 78.4,266.9 79.2,261.5 79.9,262.4 80.6,260.3 81.2,259.4 81.8,258.2 82.5,259.2 83.2,256.8 83.8,256.7 84.5,261.6 85.3,256.9 86.0,262.0 86.8,262.1 87.5,261.5 88.2,262.2 89.0,264.2 89.7,263.5 90.4,261.4 91.1,262.4 91.8,262.2 92.5,263.6 93.2,268.1 94.0,264.5 94.7,262.4 95.4,265.6 96.1,268.3 96.8,266.1 97.5,268.2 98.2,262.5 99.0,260.8 99.8,263.6 100.5,257.8 101.2,260.6 102.0,262.1 103.9,300.1 105.9,315.8 107.8,308.0 109.4,286.4 110.2,268.8 111.8,273.1 112.5,273.2 113.2,274.1 114.0,270.6 114.7,272.6 115.4,274.5 116.2,275.2 116.9,271.3 117.6,274.6 118.3,274.9 118.9,274.7 119.6,277.9 120.3,275.8 120.9,275.8 121.6,279.3 122.3,278.4 123.0,277.4 123.8,278.4 124.5,280.5 125.2,275.2 125.8,275.9 126.5,274.1 127.2,270.3 128.0,270.8 128.7,269.3 129.4,265.1 130.2,267.6 130.9,266.0 131.7,267.3 132.4,274.6 133.1,269.2 133.9,267.5 134.6,270.4 135.3,268.3 136.0,266.5 136.8,269.6 137.5,271.1 138.2,273.2 138.9,272.1 139.7,275.7 140.4,274.9 141.2,276.0 141.9,272.8 142.6,270.4 143.4,267.9 144.1,271.0 144.8,271.0 145.6,270.6 146.3,268.7 147.1,269.6 147.8,267.7 148.6,267.1 149.3,263.9 150.0,263.5 150.7,261.7 151.3,260.4 152.0,261.8 152.7,263.6 153.3,266.6 154.0,275.0 154.4,280.5 155.1,250.0 156.2,215.0 157.5,201.7 159.0,217.8 160.5,233.0 161.3,240.6 162.4,242.5 163.2,246.3 164.3,258.0 165.5,263.0 166.7,264.8 167.6,256.2 168.4,257.2 169.2,259.4 170.0,260.4 170.7,261.6 171.3,259.9 172.0,264.7 172.8,260.5 173.5,258.8 174.2,256.6 175.0,258.1 175.8,257.9 176.5,260.6 177.2,264.7 178.0,267.7 178.7,266.5 179.3,261.5 180.0,260.4 180.7,260.5 181.3,261.3 182.0,262.0 182.7,262.6 183.3,264.3 184.0,263.0 184.7,264.2 185.3,262.9 186.0,263.9 186.7,262.2 187.3,263.2 188.0,262.6 188.7,261.4 189.3,259.4 190.0,258.5 190.7,258.7 191.3,263.2 192.0,263.0 192.7,265.2 193.3,266.7 194.0,264.7 194.7,262.7 195.3,262.7 196.0,265.4 196.7,263.7 197.3,260.4 198.0,261.7 198.7,259.7 199.3,263.5 200.0,259.5 200.7,264.1 201.3,266.2 202.0,263.5 202.7,263.6 203.3,261.3 204.0,262.0 204.6,261.5 205.3,261.7 206.5,264.0 208.2,269.5 209.5,293.0 210.8,307.6 212.1,293.2 213.4,277.4 215.5,270.8 218.2,264.2 219.1,262.9 221.0,270.9 221.8,271.7 222.5,271.4 223.2,271.8 224.0,268.6 224.7,273.8 225.4,273.5 226.2,276.1 226.9,277.9 227.6,279.7 228.2,277.4 228.9,278.8 229.5,277.7 230.2,274.1 230.8,272.0 231.6,268.5 232.3,270.0 233.1,263.8 233.8,265.9 234.4,269.1 235.1,272.2 235.8,272.6 236.4,266.5 237.0,264.5 237.7,262.0 238.7,255.0 239.6,257.3" fill="none" stroke="#ff0000" stroke-width="1.02" opacity="0.45" stroke-linejoin="round" />
<polyline points="58.5,248.9 68.0,250.0" fill="none" stroke="#0000ff" stroke-width="1.3" opacity="0.8" stroke-linejoin="round" />
<polyline points="108.8,277.6 119.6,277.6" fill="none" stroke="#0000ff" stroke-width="1.3" opacity="0.8" stroke-linejoin="round" />
<polyline points="166.7,269.2 171.6,269.2" fill="none" stroke="#0000ff" stroke-width="1.3" opacity="0.8" stroke-linejoin="round" />
<polyline points="218.7,260.2 223.2,260.2" fill="none" stroke="#0000ff" stroke-width="1.3" opacity="0.8" stroke-linejoin="round" />
<rect x="26.5" y="197.3" width="125.5" height="29.2" rx="1.5" fill="#ffffff" fill-opacity="0.8" stroke="#d6d6d6" stroke-width="0.8"/>
<line x1="29.1" y1="203.3" x2="43.7" y2="203.3" stroke="#ff0000" stroke-opacity="0.45" stroke-width="1"/>
<text transform="scale(0.9,1)" x="53.46 57.86 61.51" y="205.60" font-size="6.8" fill="#1a1a1a" stroke="#1a1a1a" stroke-width="0.22" style="white-space:pre">CLF</text>
<rect x="29.1" y="209.7" width="14.6" height="5.1" fill="#ffff00" fill-opacity="0.6"/>
<text transform="scale(0.9,1)" x="54.97 58.62 61.69 65.53 69.55 74.33 77.97 81.99 84.69 88.53 93.31 96.19 100.03 104.81 107.69 111.72 116.31 119.19 123.03 127.81 130.69 134.72 139.31 142.38 146.97 149.86" y="214.60" font-size="6.8" fill="#1a1a1a" stroke="#1a1a1a" stroke-width="0.22" style="white-space:pre">transition detected by std</text>
<line x1="29.1" y1="221.3" x2="43.7" y2="221.3" stroke="#0000ff" stroke-width="1.1" stroke-opacity="0.8"/>
<text transform="scale(0.9,1)" x="53.46 57.86 61.51 66.47 70.31 73.95 77.03 80.86 84.69 89.47 92.36 97.14 100.97 103.86 108.45 112.47 115.55 120.14 123.03 127.81 130.69 134.53 139.31 142.19 146.22 150.81 154.83 157.53 161.36" y="223.60" font-size="6.8" fill="#1a1a1a" stroke="#1a1a1a" stroke-width="0.22" style="white-space:pre">CLF trend after std detection</text>
<polyline points="37.7,303.8 38.7,303.5 39.6,304.3 40.6,304.8 41.6,304.6 42.6,304.9 43.6,306.1 44.5,306.0 45.5,306.8 46.2,309.5 46.9,311.4 48.1,303.5 48.6,269.4 49.2,229.6 49.8,205.5 50.4,198.3 51.0,204.6 51.5,234.5 52.0,221.5 52.8,222.7 53.6,223.0 54.6,228.8 55.6,234.8 56.6,240.3 57.7,244.2 58.7,249.0 59.3,270.1 59.7,295.5 60.5,298.2 61.2,301.9 62.2,304.2 63.2,306.6 64.2,304.2 65.2,302.1 66.2,302.7 67.1,303.7 68.0,307.5 68.8,312.5 69.7,316.3 70.5,313.8 71.2,310.6 72.0,308.3 73.0,307.0 74.0,306.6 75.0,305.5 76.0,306.5 77.0,306.9 77.9,307.2 78.9,309.0 79.9,308.4 80.9,309.8 81.8,309.9 82.8,309.4 83.8,310.2 84.7,311.3 85.7,311.6 86.7,312.0 87.7,313.2 88.6,314.1 89.6,314.5 90.6,315.9 91.6,315.0 92.6,313.7 93.6,313.3 94.6,311.8 95.6,312.5 96.5,311.8 97.5,312.6 98.5,312.3 99.2,310.7 99.9,308.5 100.8,280.1 101.8,245.1 103.0,228.2 104.3,223.0 105.2,228.1 106.0,233.3 106.9,238.3 108.2,245.8 109.4,245.0 110.1,254.8 110.8,265.1 111.4,296.4 112.7,301.9 113.7,303.3 114.7,304.5 115.7,305.1 116.6,306.7 117.6,306.7 118.6,309.1 119.6,309.6 120.6,308.8 121.5,308.4 122.5,306.3 123.5,305.2 124.5,303.6 125.5,302.4 126.5,300.8 127.5,299.0 128.4,300.4 129.4,302.3 130.4,304.9 131.4,308.3 132.4,310.2 133.3,310.4 134.3,310.4 135.3,309.2 136.3,307.3 137.3,306.5 138.3,306.0 139.2,307.0 140.2,307.3 141.2,307.7 142.2,308.7 143.1,307.5 144.1,305.9 145.1,305.2 146.1,303.8 147.1,303.5 148.1,299.5 149.0,295.7 149.8,291.7 150.6,287.0 151.3,276.9 152.0,266.9 153.0,230.5 154.0,205.6 154.8,199.6 155.6,203.3 156.3,205.6 157.1,209.1 158.1,218.9 159.0,229.1 160.0,242.7 160.9,245.9 161.7,242.7 162.4,239.9 163.1,247.0 163.8,252.4 164.7,262.1 165.7,284.5 166.7,290.1 167.6,297.0 168.6,302.1 169.6,305.9 170.6,309.0 171.6,312.3 172.6,311.4 173.5,309.6 174.5,308.6 175.5,308.4 176.4,308.4 177.4,307.9 178.4,307.4 179.3,307.4 180.2,307.6 181.1,307.6 182.0,308.6 182.9,308.9 183.8,309.0 184.8,310.8 185.8,312.6 186.7,314.0 187.7,314.3 188.7,314.3 189.6,314.5 190.6,314.4 191.6,313.6 192.6,313.8 193.6,312.3 194.5,312.0 195.5,310.3 196.5,310.1 197.5,309.3 198.5,309.9 199.5,309.0 200.5,308.6 201.4,307.1 202.4,305.8 203.1,300.9 203.8,296.0 205.0,266.4 205.9,255.8 206.8,246.0 207.7,249.0 208.6,252.7 209.5,256.6 210.8,261.3 211.7,261.5 212.5,261.4 213.4,261.4 214.7,276.2 216.0,299.1 216.7,302.9 217.4,305.8 218.1,308.2 219.1,308.4 220.0,310.0 221.0,310.0 222.0,309.6 223.0,308.7 224.0,308.4 224.9,309.7 225.9,311.1 226.9,308.3 227.9,306.5 228.9,305.4 229.9,303.9 230.8,303.8 231.8,305.2 232.8,307.5 233.8,305.4 234.7,303.7 235.7,300.9 236.7,298.8" fill="none" stroke="#008000" stroke-width="1.02" opacity="0.55" stroke-linejoin="round" />
<rect x="174" y="197.3" width="73.5" height="11.4" rx="1.5" fill="#ffffff" fill-opacity="0.8" stroke="#d6d6d6" stroke-width="0.8"/>
<line x1="176.3" y1="202.8" x2="190.6" y2="202.8" stroke="#008000" stroke-opacity="0.55" stroke-width="1"/>
<text transform="scale(0.9,1)" x="216.79 221.19 224.84 229.81 231.75 236.53 240.55 245.33 248.03 251.86 256.64 259.72 264.31 267.19" y="205.60" font-size="6.8" fill="#1a1a1a" stroke="#1a1a1a" stroke-width="0.22" style="white-space:pre">CLF moving std</text>
<rect x="23.4" y="194.4" width="227.0" height="128.9" fill="none" stroke="#555555" stroke-width="0.9"/>
<line x1="33.4" y1="323.3" x2="33.4" y2="325.7" stroke="#555555" stroke-width="0.8"/>
<text transform="scale(0.9,1)" x="35.22" y="332.70" font-size="6.8" fill="#1a1a1a" stroke="#1a1a1a" stroke-width="0.22" style="white-space:pre">0</text>
<line x1="67.9" y1="323.3" x2="67.9" y2="325.7" stroke="#555555" stroke-width="0.8"/>
<text transform="scale(0.9,1)" x="73.53" y="332.70" font-size="6.8" fill="#1a1a1a" stroke="#1a1a1a" stroke-width="0.22" style="white-space:pre">2</text>
<line x1="102.4" y1="323.3" x2="102.4" y2="325.7" stroke="#555555" stroke-width="0.8"/>
<text transform="scale(0.9,1)" x="111.84" y="332.70" font-size="6.8" fill="#1a1a1a" stroke="#1a1a1a" stroke-width="0.22" style="white-space:pre">4</text>
<line x1="136.8" y1="323.3" x2="136.8" y2="325.7" stroke="#555555" stroke-width="0.8"/>
<text transform="scale(0.9,1)" x="150.15" y="332.70" font-size="6.8" fill="#1a1a1a" stroke="#1a1a1a" stroke-width="0.22" style="white-space:pre">6</text>
<line x1="171.3" y1="323.3" x2="171.3" y2="325.7" stroke="#555555" stroke-width="0.8"/>
<text transform="scale(0.9,1)" x="188.46" y="332.70" font-size="6.8" fill="#1a1a1a" stroke="#1a1a1a" stroke-width="0.22" style="white-space:pre">8</text>
<line x1="205.8" y1="323.3" x2="205.8" y2="325.7" stroke="#555555" stroke-width="0.8"/>
<text transform="scale(0.9,1)" x="224.86 228.69" y="332.70" font-size="6.8" fill="#1a1a1a" stroke="#1a1a1a" stroke-width="0.22" style="white-space:pre">10</text>
<line x1="240.3" y1="323.3" x2="240.3" y2="325.7" stroke="#555555" stroke-width="0.8"/>
<text transform="scale(0.9,1)" x="263.17 267.00" y="332.70" font-size="6.8" fill="#1a1a1a" stroke="#1a1a1a" stroke-width="0.22" style="white-space:pre">12</text>
<line x1="21.0" y1="197.5" x2="23.4" y2="197.5" stroke="#555555" stroke-width="0.8"/>
<text transform="scale(0.9,1)" x="6.86 10.47 14.53 18.36" y="200.00" font-size="6.8" fill="#1a1a1a" stroke="#1a1a1a" stroke-width="0.22" style="white-space:pre">0.36</text>
<line x1="21.0" y1="215.8" x2="23.4" y2="215.8" stroke="#555555" stroke-width="0.8"/>
<text transform="scale(0.9,1)" x="6.86 10.47 14.53 18.36" y="218.33" font-size="6.8" fill="#1a1a1a" stroke="#1a1a1a" stroke-width="0.22" style="white-space:pre">0.35</text>
<line x1="21.0" y1="234.2" x2="23.4" y2="234.2" stroke="#555555" stroke-width="0.8"/>
<text transform="scale(0.9,1)" x="6.86 10.47 14.53 18.36" y="236.66" font-size="6.8" fill="#1a1a1a" stroke="#1a1a1a" stroke-width="0.22" style="white-space:pre">0.34</text>
<line x1="21.0" y1="252.5" x2="23.4" y2="252.5" stroke="#555555" stroke-width="0.8"/>
<text transform="scale(0.9,1)" x="6.86 10.47 14.53 18.36" y="254.99" font-size="6.8" fill="#1a1a1a" stroke="#1a1a1a" stroke-width="0.22" style="white-space:pre">0.33</text>
<line x1="21.0" y1="270.8" x2="23.4" y2="270.8" stroke="#555555" stroke-width="0.8"/>
<text transform="scale(0.9,1)" x="6.86 10.47 14.53 18.36" y="273.32" font-size="6.8" fill="#1a1a1a" stroke="#1a1a1a" stroke-width="0.22" style="white-space:pre">0.32</text>
<line x1="21.0" y1="289.1" x2="23.4" y2="289.1" stroke="#555555" stroke-width="0.8"/>
<text transform="scale(0.9,1)" x="6.86 10.47 14.53 18.36" y="291.65" font-size="6.8" fill="#1a1a1a" stroke="#1a1a1a" stroke-width="0.22" style="white-space:pre">0.31</text>
<line x1="21.0" y1="307.5" x2="23.4" y2="307.5" stroke="#555555" stroke-width="0.8"/>
<text transform="scale(0.9,1)" x="6.86 10.47 14.53 18.36" y="309.98" font-size="6.8" fill="#1a1a1a" stroke="#1a1a1a" stroke-width="0.22" style="white-space:pre">0.30</text>
<line x1="250.4" y1="195.0" x2="252.8" y2="195.0" stroke="#555555" stroke-width="0.8"/>
<text transform="scale(0.9,1)" x="282.58 286.20 290.25 294.08 297.91" y="197.46" font-size="6.8" fill="#1a1a1a" stroke="#1a1a1a" stroke-width="0.22" style="white-space:pre">0.016</text>
<line x1="250.4" y1="210.7" x2="252.8" y2="210.7" stroke="#555555" stroke-width="0.8"/>
<text transform="scale(0.9,1)" x="282.58 286.20 290.25 294.08 297.91" y="213.24" font-size="6.8" fill="#1a1a1a" stroke="#1a1a1a" stroke-width="0.22" style="white-space:pre">0.014</text>
<line x1="250.4" y1="226.5" x2="252.8" y2="226.5" stroke="#555555" stroke-width="0.8"/>
<text transform="scale(0.9,1)" x="282.58 286.20 290.25 294.08 297.91" y="229.02" font-size="6.8" fill="#1a1a1a" stroke="#1a1a1a" stroke-width="0.22" style="white-space:pre">0.012</text>
<line x1="250.4" y1="242.3" x2="252.8" y2="242.3" stroke="#555555" stroke-width="0.8"/>
<text transform="scale(0.9,1)" x="282.58 286.20 290.25 294.08 297.91" y="244.80" font-size="6.8" fill="#1a1a1a" stroke="#1a1a1a" stroke-width="0.22" style="white-space:pre">0.010</text>
<line x1="250.4" y1="258.1" x2="252.8" y2="258.1" stroke="#555555" stroke-width="0.8"/>
<text transform="scale(0.9,1)" x="282.58 286.20 290.25 294.08 297.91" y="260.58" font-size="6.8" fill="#1a1a1a" stroke="#1a1a1a" stroke-width="0.22" style="white-space:pre">0.008</text>
<line x1="250.4" y1="273.9" x2="252.8" y2="273.9" stroke="#555555" stroke-width="0.8"/>
<text transform="scale(0.9,1)" x="282.58 286.20 290.25 294.08 297.91" y="276.36" font-size="6.8" fill="#1a1a1a" stroke="#1a1a1a" stroke-width="0.22" style="white-space:pre">0.006</text>
<line x1="250.4" y1="289.6" x2="252.8" y2="289.6" stroke="#555555" stroke-width="0.8"/>
<text transform="scale(0.9,1)" x="282.58 286.20 290.25 294.08 297.91" y="292.14" font-size="6.8" fill="#1a1a1a" stroke="#1a1a1a" stroke-width="0.22" style="white-space:pre">0.004</text>
<line x1="250.4" y1="305.4" x2="252.8" y2="305.4" stroke="#555555" stroke-width="0.8"/>
<text transform="scale(0.9,1)" x="282.58 286.20 290.25 294.08 297.91" y="307.92" font-size="6.8" fill="#1a1a1a" stroke="#1a1a1a" stroke-width="0.22" style="white-space:pre">0.002</text>
<line x1="250.4" y1="321.2" x2="252.8" y2="321.2" stroke="#555555" stroke-width="0.8"/>
<text transform="scale(0.9,1)" x="282.58 286.20 290.25 294.08 297.91" y="323.70" font-size="6.8" fill="#1a1a1a" stroke="#1a1a1a" stroke-width="0.22" style="white-space:pre">0.000</text>
<text transform="scale(0.9,1)" x="142.55 146.39 150.22 154.81 158.08" y="339.60" font-size="6.8" fill="#1a1a1a" stroke="#1a1a1a" stroke-width="0.22" style="white-space:pre">hours</text>
<text transform="scale(0.97,1)" x="24.44 28.07 33.01 37.52 40.49 45.88 49.29 53.58 58.09 63.47 67.54 71.83 75.02 79.53 84.70 87.89 93.27 96.68 102.07 105.04 109.33 114.94 119.01 123.51 126.71 130.77 135.06 140.45 144.74 147.93 152.22 157.82 161.01 165.08 169.21 174.76 177.95 182.24 187.84 191.04 195.32 200.71 203.90 209.07 212.26 216.55 221.93 226.22 228.76 235.02 239.09 242.28 247.67 250.85 255.14" y="183.20" font-size="7.9" fill="#1a1a1a" stroke="#1a1a1a" stroke-width="0.22" style="white-space:pre">(c) Transit by a significant pulse, quickly but with no</text>
<text transform="scale(0.97,1)" x="24.66 28.07 33.45 36.42 40.71 46.32 50.39 54.90 58.09 62.15 66.44 71.83 76.12 79.53 83.60 87.89 92.17 96.46 100.75 105.26 110.43 114.94 117.91 123.29 127.58 130.77 135.06 140.45 143.64 147.93 153.10 157.60 160.79 165.96 168.28 173.66 177.95 182.46 186.52 191.91 196.42 199.39 203.90 207.97 213.58 216.38" y="190.80" font-size="7.9" fill="#1a1a1a" stroke="#1a1a1a" stroke-width="0.22" style="white-space:pre"> significant changes in the performance level.</text>
<line x1="306.5" y1="194.4" x2="306.5" y2="323.3" stroke="#d9d9d9" stroke-width="1.15"/>
<line x1="336.9" y1="194.4" x2="336.9" y2="323.3" stroke="#d9d9d9" stroke-width="1.15"/>
<line x1="367.3" y1="194.4" x2="367.3" y2="323.3" stroke="#d9d9d9" stroke-width="1.15"/>
<line x1="397.7" y1="194.4" x2="397.7" y2="323.3" stroke="#d9d9d9" stroke-width="1.15"/>
<line x1="428.1" y1="194.4" x2="428.1" y2="323.3" stroke="#d9d9d9" stroke-width="1.15"/>
<line x1="458.5" y1="194.4" x2="458.5" y2="323.3" stroke="#d9d9d9" stroke-width="1.15"/>
<line x1="488.9" y1="194.4" x2="488.9" y2="323.3" stroke="#d9d9d9" stroke-width="1.15"/>
<line x1="519.3" y1="194.4" x2="519.3" y2="323.3" stroke="#d9d9d9" stroke-width="1.15"/>
<line x1="296.3" y1="206.0" x2="523.4" y2="206.0" stroke="#d9d9d9" stroke-width="1.15"/>
<line x1="296.3" y1="224.2" x2="523.4" y2="224.2" stroke="#d9d9d9" stroke-width="1.15"/>
<line x1="296.3" y1="242.4" x2="523.4" y2="242.4" stroke="#d9d9d9" stroke-width="1.15"/>
<line x1="296.3" y1="260.7" x2="523.4" y2="260.7" stroke="#d9d9d9" stroke-width="1.15"/>
<line x1="296.3" y1="278.9" x2="523.4" y2="278.9" stroke="#d9d9d9" stroke-width="1.15"/>
<line x1="296.3" y1="297.1" x2="523.4" y2="297.1" stroke="#d9d9d9" stroke-width="1.15"/>
<line x1="296.3" y1="315.3" x2="523.4" y2="315.3" stroke="#d9d9d9" stroke-width="1.15"/>
<rect x="317.4" y="200.4" width="2.7" height="117.4" fill="#ffff00" fill-opacity="0.6"/>
<rect x="463.6" y="200.4" width="2.2" height="117.4" fill="#ffff00" fill-opacity="0.6"/>
<rect x="320.1" y="200.4" width="9.6" height="117.4" fill="#808080" fill-opacity="0.4"/>
<rect x="465.8" y="200.4" width="11.6" height="117.4" fill="#808080" fill-opacity="0.4"/>
<polyline points="306.5,239.5 307.2,236.0 308.0,233.0 308.5,232.6 309.0,232.2 309.5,232.0 310.0,234.2 310.5,233.2 311.0,233.6 311.4,233.2 311.9,232.7 312.4,233.7 312.9,233.2 313.4,233.8 313.9,233.5 314.4,234.0 314.9,232.8 315.4,232.0 315.9,231.9 316.4,233.7 316.8,232.0 317.3,233.5 317.8,233.4 318.3,231.7 318.8,233.9 319.3,231.6 319.5,237.1 319.9,235.7 320.2,241.2 320.6,244.3 321.0,251.9 321.5,256.1 321.9,262.5 322.4,260.7 322.8,267.7 323.3,268.9 323.7,274.7 324.1,278.4 324.6,275.9 325.0,278.6 325.4,282.9 325.9,282.7 326.3,280.8 326.7,284.3 327.1,286.7 327.6,280.9 328.0,287.8 328.4,287.6 328.8,285.5 329.2,284.8 329.5,292.1 329.9,287.9 330.3,286.7 330.5,288.6 330.9,291.1 331.2,285.4 331.6,293.5 331.9,289.8 332.3,293.7 332.6,287.1 333.0,294.7 333.3,285.7 333.7,294.9 334.0,288.3 334.4,298.1 334.7,288.8 335.1,300.7 335.4,286.4 335.8,296.2 336.1,289.7 336.5,300.6 336.8,287.4 337.2,296.0 337.5,288.9 337.9,298.3 338.2,289.9 338.6,302.6 338.9,295.1 339.3,299.8 339.6,291.6 340.0,301.7 340.3,292.9 340.7,305.3 341.0,296.8 341.4,303.4 341.7,296.8 342.1,304.5 342.4,292.3 342.8,304.1 343.1,287.7 343.5,308.1 343.8,293.9 344.2,308.2 344.5,297.5 344.9,305.7 345.2,295.3 345.6,309.2 345.9,295.8 346.3,304.7 346.6,298.7 347.0,308.2 347.3,297.4 347.7,305.8 348.0,300.0 348.4,309.1 348.7,293.4 349.1,309.5 349.4,298.9 349.8,304.5 350.1,298.1 350.5,310.9 350.8,294.6 351.2,307.3 351.5,291.5 351.9,301.8 352.2,292.6 352.6,299.8 352.9,297.4 353.3,301.2 353.6,298.2 354.0,302.1 354.3,297.3 354.7,304.7 355.0,298.0 355.4,304.7 355.7,288.4 356.1,300.7 356.4,293.1 356.8,304.2 357.1,293.6 357.5,303.1 357.8,291.9 358.2,303.5 358.5,294.1 358.9,303.2 359.2,296.9 359.6,304.0 359.9,290.8 360.3,305.7 360.6,292.3 361.0,301.4 361.3,294.4 361.7,303.4 362.0,295.4 362.4,302.0 362.7,295.8 363.1,301.1 363.4,296.5 363.8,305.5 364.1,296.0 364.5,305.7 364.8,296.1 365.2,307.2 365.5,295.3 365.9,300.9 366.2,293.3 366.6,301.7 366.9,292.5 367.3,304.6 367.6,296.6 368.0,305.4 368.3,296.2 368.7,304.4 369.0,296.5 369.4,300.4 369.7,295.2 370.1,302.5 370.4,294.0 370.8,300.5 371.1,291.7 371.5,301.4 371.8,290.2 372.2,300.9 372.5,290.5 372.9,299.6 373.2,288.4 373.6,296.1 373.9,293.8 374.3,300.5 374.6,289.6 375.0,300.1 375.3,292.9 375.7,295.0 376.0,287.2 376.4,295.9 376.7,292.8 377.1,303.5 377.4,288.7 377.8,298.2 378.1,291.0 378.5,298.9 378.8,290.6 379.2,296.4 379.5,287.1 379.9,296.5 380.2,291.1 380.6,298.7 380.9,292.1 381.3,301.6 381.6,287.3 382.0,296.0 382.3,291.2 382.7,294.6 383.0,288.7 383.4,294.3 383.7,291.6 384.1,293.4 384.4,291.5 384.8,293.1 385.1,288.8 385.5,293.7 385.8,287.9 386.2,297.1 386.5,288.9 386.9,294.0 387.2,282.7 387.6,292.5 387.9,290.4 388.3,293.2 388.6,288.8 389.0,293.4 389.3,286.6 389.7,293.0 390.0,288.2 390.4,292.5 390.7,288.2 391.1,292.7 391.4,287.8 391.8,296.0 392.1,287.3 392.5,294.5 392.8,288.1 393.2,291.1 393.5,287.8 393.9,293.8 394.2,286.8 394.6,292.9 394.9,284.5 395.3,292.1 395.6,281.1 396.0,290.8 396.3,286.9 396.7,291.6 397.0,286.0 397.4,293.0 397.7,285.4 398.1,291.5 398.4,288.8 398.8,297.2 399.1,288.1 399.5,292.2 399.8,287.5 400.2,290.0 400.5,287.4 400.9,292.2 401.2,288.6 401.6,291.9 401.9,285.1 402.3,294.3 402.6,283.4 403.0,292.4 403.3,288.4 403.7,293.2 404.0,288.0 404.4,291.5 404.7,286.6 405.1,292.6 405.4,283.5 405.8,294.9 406.1,283.9 406.5,295.6 406.8,289.8 407.2,296.4 407.5,288.3 407.9,296.5 408.2,286.9 408.6,297.5 408.9,289.6 409.3,295.9 409.6,289.5 410.0,294.7 410.3,291.4 410.7,293.9 411.0,290.3 411.4,293.8 411.7,284.5 412.1,294.3 412.4,285.1 412.8,299.7 413.1,284.7 413.5,299.5 413.8,291.3 414.2,296.3 414.5,288.4 414.9,299.8 415.2,287.8 415.6,298.9 415.9,289.2 416.3,297.2 416.6,287.5 417.0,297.0 417.3,291.4 417.7,298.8 418.0,288.2 418.4,295.4 418.7,291.9 419.1,300.6 419.4,288.9 419.8,298.7 420.1,291.5 420.5,295.4 420.8,293.9 421.2,297.5 421.5,292.9 421.9,296.2 422.2,288.5 422.6,301.4 422.9,290.4 423.3,298.5 423.6,288.2 424.0,301.4 424.3,290.6 424.7,298.0 425.0,288.7 425.4,297.8 425.7,288.0 426.1,296.4 426.4,291.1 426.8,304.2 427.1,289.6 427.5,295.3 427.8,287.9 428.2,298.6 428.5,292.5 428.9,301.4 429.2,289.7 429.6,295.6 429.9,292.0 430.3,295.6 430.6,291.6 431.0,298.0 431.3,286.5 431.7,295.6 432.0,288.9 432.4,299.2 432.7,289.6 433.1,296.4 433.4,288.1 433.8,294.7 434.1,291.0 434.5,300.7 434.8,291.4 435.2,296.1 435.5,292.9 435.9,300.6 436.2,290.4 436.6,298.6 436.9,287.4 437.3,295.7 437.6,284.9 438.0,295.2 438.3,290.2 438.7,297.7 439.0,288.4 439.4,298.5 439.7,290.1 440.1,295.2 440.4,291.8 440.8,302.4 441.1,287.9 441.5,295.9 441.8,287.8 442.2,300.9 442.5,287.5 442.9,298.6 443.2,286.4 443.6,299.3 443.9,291.9 444.3,294.0 444.6,288.5 445.0,298.4 445.3,288.4 445.7,293.1 446.0,288.7 446.4,297.0 446.7,285.6 447.1,294.3 447.4,289.9 447.8,295.1 448.1,287.5 448.5,292.1 448.8,288.2 449.2,296.2 449.5,288.4 449.9,293.3 450.2,285.5 450.6,291.5 450.9,286.8 451.3,298.0 451.6,284.3 452.0,294.1 452.3,286.8 452.7,292.5 453.0,283.5 453.4,291.4 453.7,288.4 454.1,294.1 454.4,285.2 454.8,296.3 455.1,286.8 455.5,294.1 455.8,284.1 456.2,293.7 456.5,283.5 456.9,293.5 457.2,283.9 457.6,292.7 457.9,287.0 458.3,294.9 458.6,285.2 459.0,289.5 459.3,284.1 459.7,290.0 460.0,288.1 460.4,292.6 460.7,281.3 461.1,290.1 461.4,287.2 461.8,290.8 462.1,283.9 462.5,292.0 463.0,288.5 463.4,293.3 463.8,299.2 464.1,299.1 464.5,303.4 464.9,303.9 465.2,306.2 465.6,307.3 466.0,309.9 466.4,311.3 466.8,313.3 467.2,310.8 467.6,308.1 468.0,307.4 468.5,304.6 469.0,298.0 469.5,289.4 470.0,287.0 470.4,280.2 470.8,271.7 471.1,265.9 471.5,260.6 471.9,263.0 472.3,255.2 472.7,255.6 473.2,255.0 473.6,246.6 474.0,246.0 474.4,243.9 474.8,245.3 475.2,239.7 475.6,238.9 475.9,237.6 476.3,235.2 476.7,237.8 477.1,237.4 477.5,234.7 477.9,231.9 478.3,235.5 478.7,235.3 479.1,234.3 479.5,232.0 479.8,232.7 480.4,233.7 481.0,227.8 481.6,232.3 482.2,225.5 482.8,231.5 483.4,227.0 484.0,233.9 484.6,229.0 485.2,232.9 485.8,228.0 486.4,232.9 487.0,227.7 487.6,232.5 488.2,226.2 488.8,232.2 489.4,223.8 490.0,232.3 490.6,220.8 491.2,232.6 491.8,221.6 492.4,231.0 493.0,225.4 493.6,228.7 494.2,226.8 494.8,231.9 495.4,227.0 496.0,230.8 496.6,225.8 497.2,228.7 497.8,226.8 498.4,228.2 499.0,224.5 499.6,228.9 500.2,225.6 500.8,231.0 501.4,225.0 502.0,235.5 502.6,225.0 503.2,232.5 503.8,224.6 504.4,232.3 505.0,229.8 505.6,234.1 506.2,225.9 506.8,234.0 507.4,227.4 508.0,233.0 508.6,228.4 509.2,233.2 509.8,227.2 510.4,232.7 511.0,222.5 511.6,229.6 512.2,222.3 512.8,229.8" fill="none" stroke="#ff0000" stroke-width="1.02" opacity="0.45" stroke-linejoin="round" />
<polyline points="319.7,237.9 321.0,249.7 322.4,264.2 323.7,277.4 325.0,281.3 326.3,282.6 327.1,281.3 328.4,285.3 330.3,290.5 332.9,290.5" fill="none" stroke="#0000ff" stroke-width="1.3" opacity="0.8" stroke-linejoin="round" />
<polyline points="465.6,307.0 466.6,309.0 468.0,308.0 469.1,299.2 469.9,286.4 470.5,276.6 471.5,262.9 472.5,255.0 474.4,244.0 477.4,238.5 479.3,237.1" fill="none" stroke="#0000ff" stroke-width="1.3" opacity="0.8" stroke-linejoin="round" />
<rect x="299.5" y="197.3" width="125.9" height="38.4" rx="1.5" fill="#ffffff" fill-opacity="0.8" stroke="#d6d6d6" stroke-width="0.8"/>
<line x1="302.1" y1="203.3" x2="316.7" y2="203.3" stroke="#ff0000" stroke-opacity="0.45" stroke-width="1"/>
<text transform="scale(0.9,1)" x="356.79 361.19 364.84" y="205.60" font-size="6.8" fill="#1a1a1a" stroke="#1a1a1a" stroke-width="0.22" style="white-space:pre">CLF</text>
<rect x="302.1" y="209.7" width="14.6" height="5.1" fill="#ffff00" fill-opacity="0.6"/>
<text transform="scale(0.9,1)" x="358.31 361.95 365.03 368.86 372.88 377.66 381.31 385.33 388.03 391.86 396.64 399.53 403.36 408.14 411.03 415.05 419.64 422.53 426.36 431.14 434.03 438.05 442.64 445.72 450.31 453.19" y="214.60" font-size="6.8" fill="#1a1a1a" stroke="#1a1a1a" stroke-width="0.22" style="white-space:pre">transition detected by std</text>
<line x1="302.1" y1="221.3" x2="316.7" y2="221.3" stroke="#0000ff" stroke-width="1.1" stroke-opacity="0.8"/>
<text transform="scale(0.9,1)" x="356.79 361.19 364.84 369.81 373.64 377.28 380.36 384.19 388.03 392.81 395.69 400.47 404.31 407.19 411.78 415.81 418.88 423.47 426.36 431.14 434.03 437.86 442.64 445.53 449.55 454.14 458.16 460.86 464.69" y="223.60" font-size="6.8" fill="#1a1a1a" stroke="#1a1a1a" stroke-width="0.22" style="white-space:pre">CLF trend after std detection</text>
<rect x="302.1" y="227.7" width="14.6" height="5.1" fill="#808080" fill-opacity="0.4"/>
<text transform="scale(0.9,1)" x="358.31 361.95 365.03 368.86 372.88 377.66 381.31 385.33 388.03 391.86 396.64 399.53 403.36 408.14 411.03 415.05 419.64 422.53 426.36 431.14 434.03 438.05 442.64 446.47 450.12 453.19 457.03 460.86" y="232.60" font-size="6.8" fill="#1a1a1a" stroke="#1a1a1a" stroke-width="0.22" style="white-space:pre">transition detected by trend</text>
<polyline points="306.8,307.0 308.7,310.0 311.7,311.9 314.6,314.8 315.6,315.8 316.6,311.9 317.4,300.0 318.0,280.0 318.4,262.9 319.0,270.0 319.7,282.6 320.5,274.7 321.6,290.0 322.2,303.7 323.5,311.9 324.0,310.5 324.5,307.4 325.0,308.7 325.5,310.6 326.0,306.6 326.5,308.5 327.0,309.0 327.5,311.4 328.0,305.7 328.5,306.0 329.0,307.7 329.5,311.0 330.0,311.2 330.5,306.4 331.0,311.2 331.5,308.4 332.0,311.0 332.5,310.5 333.0,304.9 333.5,310.3 334.0,306.9 334.5,304.5 335.0,306.3 335.5,303.5 336.0,307.6 336.5,306.0 337.0,303.0 337.5,303.5 338.0,305.0 338.5,306.5 339.0,303.1 339.5,301.7 340.0,303.1 340.5,301.3 341.0,303.1 341.5,306.7 342.0,302.4 342.5,303.2 343.0,306.3 343.5,302.8 344.0,302.3 344.5,303.3 345.0,305.7 345.5,306.5 346.0,306.3 346.5,302.5 347.0,304.0 347.5,303.0 348.0,306.0 348.5,304.8 349.0,307.4 349.5,306.3 350.0,306.5 350.5,303.8 351.0,306.1 351.5,302.9 352.0,303.0 352.5,307.8 353.0,303.3 353.5,302.1 354.0,306.6 354.5,303.1 355.0,303.7 355.5,305.4 356.0,307.6 356.5,301.6 357.0,305.6 357.5,301.5 358.0,306.2 358.5,303.4 359.0,301.5 359.5,303.4 360.0,305.0 360.5,301.8 361.0,303.4 361.5,306.1 362.0,306.4 362.5,306.0 363.0,304.4 363.5,306.0 364.0,302.6 364.5,304.2 365.0,303.8 365.5,302.7 366.0,302.3 366.5,302.4 367.0,308.4 367.5,304.7 368.0,304.4 368.5,306.7 369.0,307.2 369.5,308.4 370.0,308.6 370.5,303.5 371.0,305.0 371.5,306.2 372.0,306.0 372.5,307.9 373.0,306.1 373.5,310.7 374.0,307.3 374.5,311.2 375.0,311.7 375.5,308.5 376.0,304.5 376.5,301.7 377.0,306.2 377.5,307.0 378.0,305.6 378.4,304.1 378.9,309.9 379.4,308.3 379.9,310.5 380.4,313.0 380.9,311.6 381.4,310.2 381.8,304.2 382.3,307.0 382.8,305.7 383.3,307.2 383.8,303.6 384.3,310.1 384.8,306.2 385.3,306.0 385.8,311.0 386.3,312.0 386.8,312.4 387.3,308.8 387.8,310.2 388.2,312.7 388.7,313.6 389.2,314.9 389.7,310.8 390.2,314.4 390.7,311.1 391.2,311.4 391.6,309.7 392.1,311.4 392.6,309.4 393.1,311.3 393.6,308.6 394.1,307.9 394.6,309.6 395.1,309.8 395.6,310.1 396.0,315.0 396.5,312.8 397.0,314.9 397.5,313.8 398.0,315.5 398.5,311.9 399.0,311.3 399.5,309.5 400.0,308.8 400.5,312.6 401.0,309.4 401.5,310.0 402.0,312.0 402.5,309.7 403.0,307.7 403.4,311.3 403.9,312.1 404.4,313.2 404.9,310.2 405.4,308.5 405.9,312.7 406.4,314.0 406.9,309.8 407.4,315.3 407.8,316.1 408.3,311.8 408.8,315.9 409.3,313.3 409.8,314.6 410.3,310.7 410.8,312.2 411.2,309.0 411.7,309.0 412.2,308.5 412.7,308.2 413.2,304.8 413.7,303.2 414.2,304.9 414.7,306.0 415.2,306.0 415.7,305.6 416.2,311.1 416.7,306.9 417.2,304.5 417.6,305.9 418.1,309.1 418.6,308.6 419.1,306.8 419.6,303.9 420.1,305.5 420.6,308.9 421.1,303.7 421.5,303.1 422.0,305.2 422.5,302.2 423.0,307.6 423.5,306.7 424.0,302.1 424.5,306.3 424.9,306.6 425.4,304.9 425.9,304.6 426.4,300.0 426.9,300.4 427.4,302.8 427.9,301.7 428.4,306.7 428.9,304.7 429.4,307.1 429.9,306.3 430.4,309.7 430.9,305.2 431.4,308.3 431.8,308.0 432.3,306.2 432.8,302.3 433.3,307.9 433.8,303.1 434.3,302.7 434.8,307.8 435.2,303.6 435.7,302.8 436.2,308.2 436.7,308.7 437.2,305.5 437.7,306.1 438.2,309.0 438.7,309.4 439.2,307.1 439.7,306.2 440.2,307.1 440.7,308.5 441.2,306.8 441.7,311.2 442.2,308.9 442.6,309.7 443.1,307.8 443.6,308.5 444.1,310.4 444.6,311.4 445.1,310.8 445.5,308.4 446.0,310.2 446.5,307.7 447.0,310.8 447.5,309.6 448.0,314.5 448.5,312.2 449.0,310.9 449.5,316.0 450.0,312.3 450.4,317.1 450.9,317.3 451.4,317.9 451.9,313.0 452.4,314.1 452.9,311.9 453.4,311.4 453.8,313.4 454.3,314.0 454.8,309.9 455.3,313.6 455.8,311.1 456.3,309.1 456.8,311.8 457.3,310.1 457.8,309.1 458.3,312.6 458.8,309.8 459.2,308.2 459.7,308.9 460.2,311.1 460.7,305.9 461.2,309.4 461.7,311.4 462.2,309.8 462.7,306.5 463.6,290.0 464.2,240.0 464.6,196.0 465.0,240.0 465.6,290.0 467.0,305.0 469.5,299.2 470.0,300.9 470.5,302.3 471.0,302.8 471.5,305.1 472.0,305.1 472.5,303.7 473.0,306.8 473.5,305.1 474.0,305.1 474.4,305.6 474.9,309.3 475.4,305.9 475.9,306.8 476.4,309.5 476.9,309.9 477.4,308.4 477.9,306.9 478.4,309.1 478.9,308.6 479.4,312.7 479.9,307.6 480.3,310.2 480.8,312.5 481.3,312.5 481.8,311.8 482.3,312.5 482.8,308.9 483.2,312.0 483.7,312.0 484.2,306.2 484.7,308.7 485.2,309.5 485.7,310.3 486.2,311.8 486.7,310.8 487.2,313.8 487.7,314.0 488.2,313.2 488.6,311.5 489.1,306.6 489.6,308.6 490.1,307.6 490.6,305.8 491.1,305.5 491.7,302.4 492.2,304.5 492.7,300.5 493.1,306.4 493.6,308.5 494.0,314.1 494.5,311.3 495.0,313.1 495.5,316.0 496.0,313.1 496.5,316.0 497.0,316.6 497.5,315.3 498.0,315.3 498.5,312.7 498.9,314.3 499.4,317.0 499.9,317.0 500.4,314.4 500.9,313.6 501.4,316.0 501.9,312.5 502.4,313.3 502.8,308.1 503.3,308.4 503.8,310.9 504.3,310.7 504.8,313.6 505.3,313.0 505.8,317.3 506.3,311.7 506.8,312.8 507.2,314.7 507.7,313.6 508.2,314.3 508.7,312.7 509.2,312.2 509.7,310.7 510.2,305.9 510.7,302.1 511.2,304.5 511.7,306.1 512.2,311.0 512.7,311.7" fill="none" stroke="#008000" stroke-width="1.02" opacity="0.55" stroke-linejoin="round" />
<rect x="447" y="197.3" width="73.5" height="11.4" rx="1.5" fill="#ffffff" fill-opacity="0.8" stroke="#d6d6d6" stroke-width="0.8"/>
<line x1="449.3" y1="202.8" x2="463.6" y2="202.8" stroke="#008000" stroke-opacity="0.55" stroke-width="1"/>
<text transform="scale(0.9,1)" x="520.13 524.53 528.17 533.14 535.08 539.86 543.88 548.66 551.36 555.19 559.97 563.05 567.64 570.53" y="205.60" font-size="6.8" fill="#1a1a1a" stroke="#1a1a1a" stroke-width="0.22" style="white-space:pre">CLF moving std</text>
<rect x="296.3" y="194.4" width="227.1" height="128.9" fill="none" stroke="#555555" stroke-width="0.9"/>
<line x1="306.5" y1="323.3" x2="306.5" y2="325.7" stroke="#555555" stroke-width="0.8"/>
<text transform="scale(0.9,1)" x="338.66" y="332.70" font-size="6.8" fill="#1a1a1a" stroke="#1a1a1a" stroke-width="0.22" style="white-space:pre">0</text>
<line x1="336.9" y1="323.3" x2="336.9" y2="325.7" stroke="#555555" stroke-width="0.8"/>
<text transform="scale(0.9,1)" x="370.53 374.36" y="332.70" font-size="6.8" fill="#1a1a1a" stroke="#1a1a1a" stroke-width="0.22" style="white-space:pre">10</text>
<line x1="367.3" y1="323.3" x2="367.3" y2="325.7" stroke="#555555" stroke-width="0.8"/>
<text transform="scale(0.9,1)" x="404.30 408.14" y="332.70" font-size="6.8" fill="#1a1a1a" stroke="#1a1a1a" stroke-width="0.22" style="white-space:pre">20</text>
<line x1="397.7" y1="323.3" x2="397.7" y2="325.7" stroke="#555555" stroke-width="0.8"/>
<text transform="scale(0.9,1)" x="438.08 441.91" y="332.70" font-size="6.8" fill="#1a1a1a" stroke="#1a1a1a" stroke-width="0.22" style="white-space:pre">30</text>
<line x1="428.1" y1="323.3" x2="428.1" y2="325.7" stroke="#555555" stroke-width="0.8"/>
<text transform="scale(0.9,1)" x="471.86 475.69" y="332.70" font-size="6.8" fill="#1a1a1a" stroke="#1a1a1a" stroke-width="0.22" style="white-space:pre">40</text>
<line x1="458.5" y1="323.3" x2="458.5" y2="325.7" stroke="#555555" stroke-width="0.8"/>
<text transform="scale(0.9,1)" x="505.64 509.47" y="332.70" font-size="6.8" fill="#1a1a1a" stroke="#1a1a1a" stroke-width="0.22" style="white-space:pre">50</text>
<line x1="488.9" y1="323.3" x2="488.9" y2="325.7" stroke="#555555" stroke-width="0.8"/>
<text transform="scale(0.9,1)" x="539.41 543.25" y="332.70" font-size="6.8" fill="#1a1a1a" stroke="#1a1a1a" stroke-width="0.22" style="white-space:pre">60</text>
<line x1="519.3" y1="323.3" x2="519.3" y2="325.7" stroke="#555555" stroke-width="0.8"/>
<text transform="scale(0.9,1)" x="573.19 577.03" y="332.70" font-size="6.8" fill="#1a1a1a" stroke="#1a1a1a" stroke-width="0.22" style="white-space:pre">70</text>
<line x1="293.90000000000003" y1="206.0" x2="296.3" y2="206.0" stroke="#555555" stroke-width="0.8"/>
<text transform="scale(0.9,1)" x="310.08 313.70 317.75 321.58" y="208.50" font-size="6.8" fill="#1a1a1a" stroke="#1a1a1a" stroke-width="0.22" style="white-space:pre">0.33</text>
<line x1="293.90000000000003" y1="224.2" x2="296.3" y2="224.2" stroke="#555555" stroke-width="0.8"/>
<text transform="scale(0.9,1)" x="310.08 313.70 317.75 321.58" y="226.72" font-size="6.8" fill="#1a1a1a" stroke="#1a1a1a" stroke-width="0.22" style="white-space:pre">0.32</text>
<line x1="293.90000000000003" y1="242.4" x2="296.3" y2="242.4" stroke="#555555" stroke-width="0.8"/>
<text transform="scale(0.9,1)" x="310.08 313.70 317.75 321.58" y="244.94" font-size="6.8" fill="#1a1a1a" stroke="#1a1a1a" stroke-width="0.22" style="white-space:pre">0.31</text>
<line x1="293.90000000000003" y1="260.7" x2="296.3" y2="260.7" stroke="#555555" stroke-width="0.8"/>
<text transform="scale(0.9,1)" x="310.08 313.70 317.75 321.58" y="263.16" font-size="6.8" fill="#1a1a1a" stroke="#1a1a1a" stroke-width="0.22" style="white-space:pre">0.30</text>
<line x1="293.90000000000003" y1="278.9" x2="296.3" y2="278.9" stroke="#555555" stroke-width="0.8"/>
<text transform="scale(0.9,1)" x="310.08 313.70 317.75 321.58" y="281.38" font-size="6.8" fill="#1a1a1a" stroke="#1a1a1a" stroke-width="0.22" style="white-space:pre">0.29</text>
<line x1="293.90000000000003" y1="297.1" x2="296.3" y2="297.1" stroke="#555555" stroke-width="0.8"/>
<text transform="scale(0.9,1)" x="310.08 313.70 317.75 321.58" y="299.60" font-size="6.8" fill="#1a1a1a" stroke="#1a1a1a" stroke-width="0.22" style="white-space:pre">0.28</text>
<line x1="293.90000000000003" y1="315.3" x2="296.3" y2="315.3" stroke="#555555" stroke-width="0.8"/>
<text transform="scale(0.9,1)" x="310.08 313.70 317.75 321.58" y="317.82" font-size="6.8" fill="#1a1a1a" stroke="#1a1a1a" stroke-width="0.22" style="white-space:pre">0.27</text>
<line x1="523.4" y1="198.9" x2="525.8" y2="198.9" stroke="#555555" stroke-width="0.8"/>
<text transform="scale(0.9,1)" x="585.91 589.53 593.58 597.41 601.25 605.08" y="201.40" font-size="6.8" fill="#1a1a1a" stroke="#1a1a1a" stroke-width="0.22" style="white-space:pre">0.0175</text>
<line x1="523.4" y1="216.2" x2="525.8" y2="216.2" stroke="#555555" stroke-width="0.8"/>
<text transform="scale(0.9,1)" x="585.91 589.53 593.58 597.41 601.25 605.08" y="218.70" font-size="6.8" fill="#1a1a1a" stroke="#1a1a1a" stroke-width="0.22" style="white-space:pre">0.0150</text>
<line x1="523.4" y1="233.5" x2="525.8" y2="233.5" stroke="#555555" stroke-width="0.8"/>
<text transform="scale(0.9,1)" x="585.91 589.53 593.58 597.41 601.25 605.08" y="236.00" font-size="6.8" fill="#1a1a1a" stroke="#1a1a1a" stroke-width="0.22" style="white-space:pre">0.0125</text>
<line x1="523.4" y1="250.8" x2="525.8" y2="250.8" stroke="#555555" stroke-width="0.8"/>
<text transform="scale(0.9,1)" x="585.91 589.53 593.58 597.41 601.25 605.08" y="253.30" font-size="6.8" fill="#1a1a1a" stroke="#1a1a1a" stroke-width="0.22" style="white-space:pre">0.0100</text>
<line x1="523.4" y1="268.1" x2="525.8" y2="268.1" stroke="#555555" stroke-width="0.8"/>
<text transform="scale(0.9,1)" x="585.91 589.53 593.58 597.41 601.25 605.08" y="270.60" font-size="6.8" fill="#1a1a1a" stroke="#1a1a1a" stroke-width="0.22" style="white-space:pre">0.0075</text>
<line x1="523.4" y1="285.4" x2="525.8" y2="285.4" stroke="#555555" stroke-width="0.8"/>
<text transform="scale(0.9,1)" x="585.91 589.53 593.58 597.41 601.25 605.08" y="287.90" font-size="6.8" fill="#1a1a1a" stroke="#1a1a1a" stroke-width="0.22" style="white-space:pre">0.0050</text>
<line x1="523.4" y1="302.7" x2="525.8" y2="302.7" stroke="#555555" stroke-width="0.8"/>
<text transform="scale(0.9,1)" x="585.91 589.53 593.58 597.41 601.25 605.08" y="305.20" font-size="6.8" fill="#1a1a1a" stroke="#1a1a1a" stroke-width="0.22" style="white-space:pre">0.0025</text>
<line x1="523.4" y1="320.0" x2="525.8" y2="320.0" stroke="#555555" stroke-width="0.8"/>
<text transform="scale(0.9,1)" x="585.91 589.53 593.58 597.41 601.25 605.08" y="322.50" font-size="6.8" fill="#1a1a1a" stroke="#1a1a1a" stroke-width="0.22" style="white-space:pre">0.0000</text>
<text transform="scale(0.9,1)" x="445.83 449.66 453.50 458.09 461.36" y="339.60" font-size="6.8" fill="#1a1a1a" stroke="#1a1a1a" stroke-width="0.22" style="white-space:pre">hours</text>
<text transform="scale(0.97,1)" x="306.19 309.60 314.77 319.27 322.25 327.63 331.04 335.33 339.84 345.23 349.29 353.58 357.87 361.94 365.35 368.54 375.03 378.22 382.50 386.79 392.18 395.37 399.66 404.83 409.34 412.52 417.69 420.01 425.39 429.68 434.19 438.26 443.64 448.15 451.12 455.63 459.70 465.31 469.38 473.67 476.85 482.24 485.43 489.72 494.01 499.40 502.59 506.88 512.05 516.55 519.74 524.03 529.20 533.49" y="175.50" font-size="7.9" fill="#1a1a1a" stroke="#1a1a1a" stroke-width="0.22" style="white-space:pre">(d) Transit from one performance level to another per-</text>
<text transform="scale(0.97,1)" x="306.41 309.60 314.77 317.08 322.46 326.75 331.26 335.33 340.72 345.23 348.19 352.71 356.77 362.38 366.45 369.64 374.15 379.31 382.50 387.89 391.30 396.69 399.66 403.95 409.56 413.62 418.13 421.32 425.39 429.68 435.07 439.36 442.77 446.83 451.12 456.29 460.80 465.09 469.38 473.89 475.76 481.14 486.53 489.72 494.01 499.62 502.81 506.88 511.00 516.55 520.84 524.03 529.64 533.49" y="183.20" font-size="7.9" fill="#1a1a1a" stroke="#1a1a1a" stroke-width="0.22" style="white-space:pre">formance level by a significant short time pulse, fol-</text>
<text transform="scale(0.97,1)" x="306.63 309.60 313.23 318.17 322.46 327.85 331.04 335.55 340.72 343.91 349.29 353.80 356.77 361.06 365.35 370.52 375.03 379.53 381.41 386.79 392.18 395.37 400.98 404.83 408.24 412.75 417.91 422.42 425.39 429.68 433.97 439.58 443.64 447.93 452.00 455.41 459.70 463.99 468.12" y="190.80" font-size="7.9" fill="#1a1a1a" stroke="#1a1a1a" stroke-width="0.22" style="white-space:pre">lowed by a long-time directional trend.</text>
</svg>
</body></html>
